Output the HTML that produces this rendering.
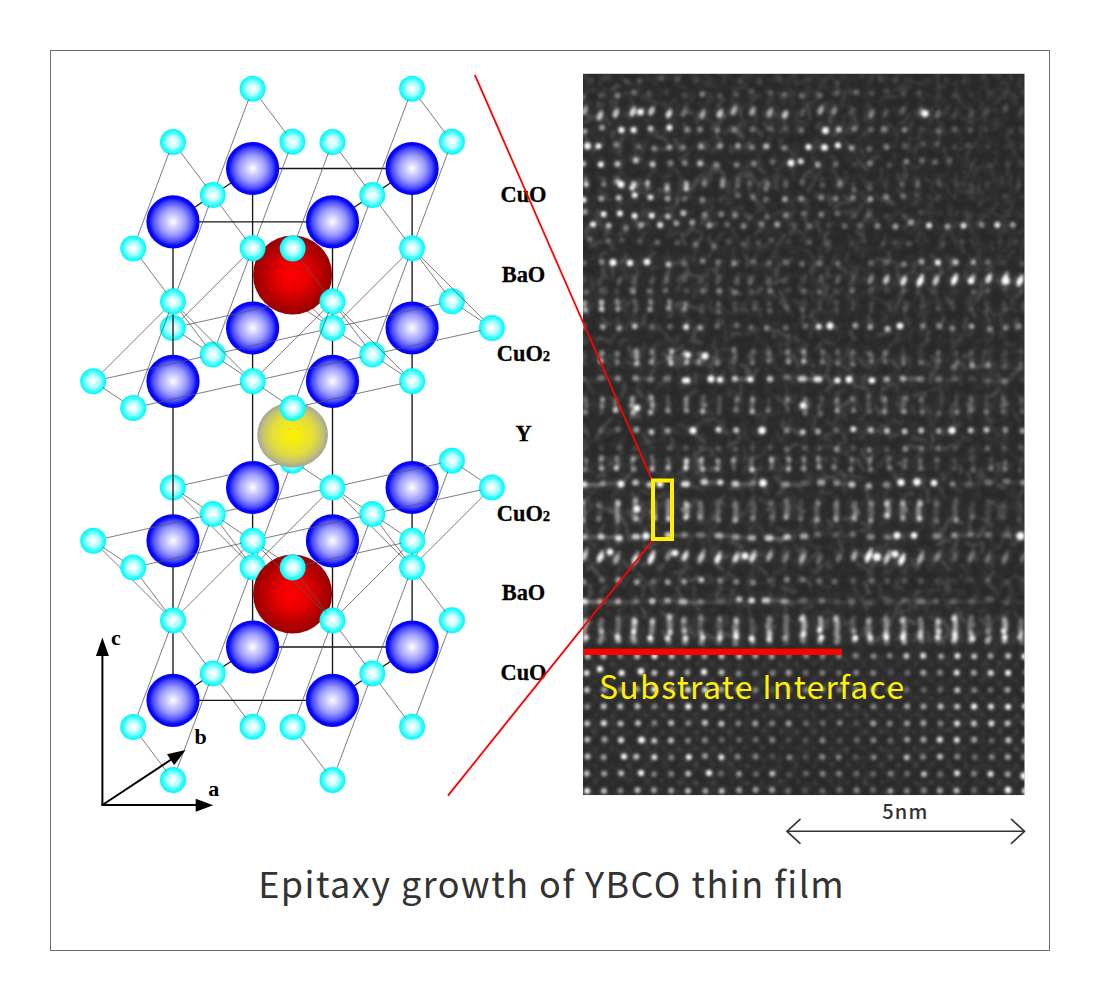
<!DOCTYPE html>
<html lang="en">
<head>
<meta charset="utf-8">
<title>Epitaxy growth of YBCO thin film</title>
<style>
html,body{margin:0;padding:0;background:#fff;}
body{width:1100px;height:1000px;overflow:hidden;position:relative;}
svg{position:absolute;left:0;top:0;display:block;}
.t{stroke:#585858;stroke-width:.78;fill:none;}
.k{stroke:#161616;stroke-width:1.35;fill:none;}
.lab text{font-family:"Liberation Serif","Noto Serif CJK JP",serif;font-weight:bold;fill:#000;}
.lab{font-size:22px;}
.sans{font-family:"Noto Sans CJK JP","Liberation Sans",sans-serif;}
</style>
</head>
<body>
<svg width="1100" height="1000" viewBox="0 0 1100 1000">
<defs>
<radialGradient id="gCu" cx="50%" cy="50%" r="50%">
<stop offset="0" stop-color="#ffffff"/><stop offset=".06" stop-color="#f2f2ff"/><stop offset=".25" stop-color="#ccccff"/><stop offset=".5" stop-color="#9a9aff"/><stop offset=".75" stop-color="#4c4cff"/><stop offset=".9" stop-color="#0606fc"/><stop offset="1" stop-color="#0000f0"/>
</radialGradient>
<radialGradient id="gO" cx="50%" cy="50%" r="50%">
<stop offset="0" stop-color="#ffffff"/><stop offset=".14" stop-color="#f8ffff"/><stop offset=".5" stop-color="#a8ffff"/><stop offset=".8" stop-color="#2cffff"/><stop offset="1" stop-color="#00f6f6"/>
</radialGradient>
<radialGradient id="gBa" cx="50%" cy="50%" r="50%">
<stop offset="0" stop-color="#ff0000"/><stop offset=".35" stop-color="#ee0000"/><stop offset=".8" stop-color="#b00000"/><stop offset="1" stop-color="#980000"/>
</radialGradient>
<radialGradient id="gY" cx="50%" cy="50%" r="50%">
<stop offset="0" stop-color="#ffee00"/><stop offset=".25" stop-color="#f6ea14"/><stop offset=".6" stop-color="#e2de3c"/><stop offset=".85" stop-color="#c4c270"/><stop offset="1" stop-color="#a4a498"/>
</radialGradient>
</defs>
<rect x="50.5" y="50.5" width="999" height="900" fill="#fff" stroke="#6e6e6e" stroke-width="1"/>
<!-- crystal structure -->
<g id="crystal">
<circle cx="292.4" cy="141.8" r="13.0" fill="url(#gO)"/>
<circle cx="451.9" cy="141.8" r="13.0" fill="url(#gO)"/>
<circle cx="292.4" cy="620.3" r="13.0" fill="url(#gO)"/>
<circle cx="451.9" cy="620.3" r="13.0" fill="url(#gO)"/>
<circle cx="292.4" cy="301.3" r="13.0" fill="url(#gO)"/>
<circle cx="451.9" cy="301.3" r="13.0" fill="url(#gO)"/>
<circle cx="292.4" cy="460.8" r="13.0" fill="url(#gO)"/>
<circle cx="451.9" cy="460.8" r="13.0" fill="url(#gO)"/>
<path class="k" d="M252.6 168.5L412.1 168.5"/>
<path class="k" d="M173.0 221.8L252.6 168.5"/>
<path class="k" d="M332.5 221.8L412.1 168.5"/>
<path class="k" d="M252.6 647.0L412.1 647.0"/>
<path class="k" d="M173.0 700.3L252.6 647.0"/>
<path class="k" d="M332.5 700.3L412.1 647.0"/>
<path class="k" d="M252.6 168.5L252.6 647.0"/>
<path class="k" d="M412.1 168.5L412.1 647.0"/>
<circle cx="252.6" cy="168.5" r="26.6" fill="url(#gCu)"/>
<circle cx="412.1" cy="168.5" r="26.6" fill="url(#gCu)"/>
<circle cx="252.6" cy="328.0" r="26.6" fill="url(#gCu)"/>
<circle cx="412.1" cy="328.0" r="26.6" fill="url(#gCu)"/>
<circle cx="412.1" cy="487.5" r="26.6" fill="url(#gCu)"/>
<circle cx="252.6" cy="647.0" r="26.6" fill="url(#gCu)"/>
<circle cx="412.1" cy="647.0" r="26.6" fill="url(#gCu)"/>
<path class="t" d="M259.5 97.9L285.5 132.6"/>
<path class="t" d="M288.4 152.5L256.6 237.4"/>
<path class="t" d="M419.0 97.9L445.0 132.6"/>
<path class="t" d="M447.9 152.5L416.1 237.4"/>
<path class="t" d="M259.5 576.4L285.5 611.1"/>
<path class="t" d="M288.4 631.0L256.6 715.9"/>
<path class="t" d="M419.0 576.4L445.0 611.1"/>
<path class="t" d="M447.9 631.0L416.1 715.9"/>
<path class="t" d="M244.5 256.3L181.0 319.8"/>
<path class="t" d="M260.7 256.3L324.2 319.8"/>
<path class="t" d="M259.5 257.4L285.5 292.1"/>
<path class="t" d="M404.0 256.3L340.5 319.8"/>
<path class="t" d="M420.2 256.3L483.7 319.8"/>
<path class="t" d="M419.0 257.4L445.0 292.1"/>
<path class="t" d="M302.0 307.7L322.8 321.6"/>
<path class="t" d="M184.1 325.4L281.2 303.8"/>
<path class="t" d="M461.5 307.7L482.3 321.6"/>
<path class="t" d="M343.6 325.4L440.7 303.8"/>
<path class="t" d="M244.5 559.1L181.0 495.6"/>
<path class="t" d="M260.7 559.1L324.2 495.6"/>
<path class="t" d="M256.6 556.4L288.4 471.5"/>
<path class="t" d="M404.0 559.1L340.5 495.6"/>
<path class="t" d="M420.2 559.1L483.7 495.6"/>
<path class="t" d="M416.1 556.4L447.9 471.5"/>
<path class="t" d="M302.0 467.2L322.8 481.1"/>
<path class="t" d="M184.1 484.9L281.2 463.3"/>
<path class="t" d="M461.5 467.2L482.3 481.1"/>
<path class="t" d="M343.6 484.9L440.7 463.3"/>
<circle cx="252.6" cy="88.7" r="13.0" fill="url(#gO)"/>
<circle cx="412.1" cy="88.7" r="13.0" fill="url(#gO)"/>
<circle cx="412.1" cy="248.2" r="13.0" fill="url(#gO)"/>
<circle cx="252.6" cy="567.2" r="13.0" fill="url(#gO)"/>
<circle cx="252.6" cy="726.7" r="13.0" fill="url(#gO)"/>
<circle cx="412.1" cy="567.2" r="13.0" fill="url(#gO)"/>
<circle cx="412.1" cy="726.7" r="13.0" fill="url(#gO)"/>
<circle cx="491.9" cy="328.0" r="13.0" fill="url(#gO)"/>
<circle cx="172.8" cy="328.0" r="13.0" fill="url(#gO)"/>
<circle cx="491.9" cy="487.5" r="13.0" fill="url(#gO)"/>
<circle cx="172.8" cy="487.5" r="13.0" fill="url(#gO)"/>
<circle cx="292.6" cy="274.9" r="39.5" fill="url(#gBa)"/>
<circle cx="292.6" cy="593.9" r="39.5" fill="url(#gBa)"/>
<ellipse cx="292.6" cy="434.8" rx="35.4" ry="32.6" fill="url(#gY)"/>
<circle cx="252.6" cy="248.2" r="13.0" fill="url(#gO)"/>
<path class="t" d="M245.7 239.0L219.7 204.3"/>
<path class="t" d="M216.8 184.4L248.6 99.5"/>
<path class="t" d="M405.2 239.0L379.2 204.3"/>
<path class="t" d="M376.3 184.4L408.1 99.5"/>
<path class="t" d="M245.7 717.5L219.7 682.8"/>
<path class="t" d="M216.8 662.9L248.6 578.0"/>
<path class="t" d="M405.2 717.5L379.2 682.8"/>
<path class="t" d="M376.3 662.9L408.1 578.0"/>
<path class="t" d="M248.6 259.0L216.8 343.9"/>
<path class="t" d="M408.1 259.0L376.3 343.9"/>
<path class="t" d="M182.4 334.3L203.2 348.2"/>
<path class="t" d="M224.0 352.1L321.1 330.5"/>
<path class="t" d="M383.5 352.1L480.6 330.5"/>
<path class="t" d="M341.9 334.3L362.7 348.2"/>
<path class="t" d="M245.7 558.0L219.7 523.3"/>
<path class="t" d="M405.2 558.0L379.2 523.3"/>
<path class="t" d="M182.4 493.8L203.2 507.7"/>
<path class="t" d="M224.0 511.6L321.1 490.0"/>
<path class="t" d="M383.5 511.6L480.6 490.0"/>
<path class="t" d="M341.9 493.8L362.7 507.7"/>
<circle cx="252.6" cy="487.5" r="26.6" fill="url(#gCu)"/>
<circle cx="212.8" cy="195.1" r="13.0" fill="url(#gO)"/>
<circle cx="372.3" cy="195.1" r="13.0" fill="url(#gO)"/>
<circle cx="212.8" cy="673.6" r="13.0" fill="url(#gO)"/>
<circle cx="372.3" cy="673.6" r="13.0" fill="url(#gO)"/>
<circle cx="212.8" cy="354.6" r="13.0" fill="url(#gO)"/>
<circle cx="372.3" cy="354.6" r="13.0" fill="url(#gO)"/>
<circle cx="212.8" cy="514.1" r="13.0" fill="url(#gO)"/>
<circle cx="372.3" cy="514.1" r="13.0" fill="url(#gO)"/>
<path class="k" d="M173.0 221.8L332.5 221.8"/>
<path class="k" d="M173.0 700.3L332.5 700.3"/>
<path class="k" d="M173.0 221.8L173.0 700.3"/>
<path class="k" d="M332.5 221.8L332.5 700.3"/>
<circle cx="332.4" cy="328.0" r="13.0" fill="url(#gO)"/>
<circle cx="332.4" cy="487.5" r="13.0" fill="url(#gO)"/>
<circle cx="173.0" cy="221.8" r="26.6" fill="url(#gCu)"/>
<circle cx="332.5" cy="221.8" r="26.6" fill="url(#gCu)"/>
<circle cx="173.0" cy="381.3" r="26.6" fill="url(#gCu)"/>
<circle cx="332.5" cy="381.3" r="26.6" fill="url(#gCu)"/>
<circle cx="173.0" cy="540.8" r="26.6" fill="url(#gCu)"/>
<circle cx="332.5" cy="540.8" r="26.6" fill="url(#gCu)"/>
<circle cx="173.0" cy="700.3" r="26.6" fill="url(#gCu)"/>
<circle cx="332.5" cy="700.3" r="26.6" fill="url(#gCu)"/>
<path class="t" d="M179.9 151.3L205.9 185.9"/>
<path class="t" d="M208.8 205.9L177.0 290.8"/>
<path class="t" d="M339.4 151.3L365.4 185.9"/>
<path class="t" d="M368.3 205.9L336.5 290.8"/>
<path class="t" d="M179.9 629.8L205.9 664.4"/>
<path class="t" d="M208.8 684.4L177.0 769.3"/>
<path class="t" d="M339.4 629.8L365.4 664.4"/>
<path class="t" d="M368.3 684.4L336.5 769.3"/>
<path class="t" d="M164.9 309.7L101.4 373.2"/>
<path class="t" d="M181.1 309.7L244.6 373.2"/>
<path class="t" d="M179.9 310.8L205.9 345.4"/>
<path class="t" d="M324.4 309.7L260.9 373.2"/>
<path class="t" d="M340.6 309.7L404.1 373.2"/>
<path class="t" d="M339.4 310.8L365.4 345.4"/>
<path class="t" d="M264.0 378.8L361.1 357.1"/>
<path class="t" d="M222.4 361.0L243.2 374.9"/>
<path class="t" d="M104.5 378.8L201.6 357.1"/>
<path class="t" d="M381.9 361.0L402.7 374.9"/>
<path class="t" d="M164.9 612.4L101.4 548.9"/>
<path class="t" d="M181.1 612.4L244.6 548.9"/>
<path class="t" d="M177.0 609.8L208.8 524.9"/>
<path class="t" d="M324.4 612.4L260.9 548.9"/>
<path class="t" d="M340.6 612.4L404.1 548.9"/>
<path class="t" d="M336.5 609.8L368.3 524.9"/>
<path class="t" d="M264.0 538.3L361.1 516.6"/>
<path class="t" d="M222.4 520.5L243.2 534.4"/>
<path class="t" d="M104.5 538.3L201.6 516.6"/>
<path class="t" d="M381.9 520.5L402.7 534.4"/>
<circle cx="173.0" cy="142.1" r="13.0" fill="url(#gO)"/>
<circle cx="173.0" cy="301.6" r="13.0" fill="url(#gO)"/>
<circle cx="332.5" cy="142.1" r="13.0" fill="url(#gO)"/>
<circle cx="332.5" cy="301.6" r="13.0" fill="url(#gO)"/>
<circle cx="173.0" cy="620.5" r="13.0" fill="url(#gO)"/>
<circle cx="173.0" cy="780.0" r="13.0" fill="url(#gO)"/>
<circle cx="332.5" cy="620.5" r="13.0" fill="url(#gO)"/>
<circle cx="332.5" cy="780.0" r="13.0" fill="url(#gO)"/>
<circle cx="252.8" cy="381.3" r="13.0" fill="url(#gO)"/>
<circle cx="93.2" cy="381.3" r="13.0" fill="url(#gO)"/>
<circle cx="412.2" cy="381.3" r="13.0" fill="url(#gO)"/>
<circle cx="252.8" cy="540.8" r="13.0" fill="url(#gO)"/>
<circle cx="93.2" cy="540.8" r="13.0" fill="url(#gO)"/>
<circle cx="412.2" cy="540.8" r="13.0" fill="url(#gO)"/>
<path class="t" d="M166.1 292.3L140.1 257.7"/>
<path class="t" d="M137.2 237.7L169.0 152.8"/>
<path class="t" d="M325.6 292.3L299.6 257.7"/>
<path class="t" d="M296.7 237.7L328.5 152.8"/>
<path class="t" d="M166.1 770.8L140.1 736.2"/>
<path class="t" d="M137.2 716.2L169.0 631.3"/>
<path class="t" d="M325.6 770.8L299.6 736.2"/>
<path class="t" d="M296.7 716.2L328.5 631.3"/>
<path class="t" d="M169.0 312.3L137.2 397.2"/>
<path class="t" d="M328.5 312.3L296.7 397.2"/>
<path class="t" d="M262.3 387.7L283.1 401.6"/>
<path class="t" d="M144.4 405.5L241.5 383.8"/>
<path class="t" d="M102.8 387.7L123.6 401.6"/>
<path class="t" d="M303.9 405.5L401.0 383.8"/>
<path class="t" d="M166.1 611.3L140.1 576.7"/>
<path class="t" d="M325.6 611.3L299.6 576.7"/>
<path class="t" d="M262.3 547.2L283.1 561.1"/>
<path class="t" d="M144.4 565.0L241.5 543.3"/>
<path class="t" d="M102.8 547.2L123.6 561.1"/>
<path class="t" d="M303.9 565.0L401.0 543.3"/>
<circle cx="133.2" cy="248.5" r="13.0" fill="url(#gO)"/>
<circle cx="292.7" cy="248.5" r="13.0" fill="url(#gO)"/>
<circle cx="133.2" cy="727.0" r="13.0" fill="url(#gO)"/>
<circle cx="292.7" cy="727.0" r="13.0" fill="url(#gO)"/>
<circle cx="133.2" cy="408.0" r="13.0" fill="url(#gO)"/>
<circle cx="292.7" cy="408.0" r="13.0" fill="url(#gO)"/>
<circle cx="133.2" cy="567.5" r="13.0" fill="url(#gO)"/>
<circle cx="292.7" cy="567.5" r="13.0" fill="url(#gO)"/>
</g>
<!-- axes -->
<g stroke="#000" stroke-width="2" fill="none">
<path d="M102.4 805V652"/><path d="M101.4 805H198"/><path d="M102.4 805L172 759"/>
</g>
<g fill="#000">
<path d="M102.4 637.6l-6.5 18.5h13z"/><path d="M213.2 805.3l-17.5-6.5v13z"/><path d="M185.6 750l-18.6 4.2l7.2 10.9z"/>
</g>
<g class="lab">
<text x="111" y="645">c</text><text x="194.5" y="744">b</text><text x="208.3" y="796">a</text>
<g transform="translate(523.5 0) scale(.95 1)" font-size="23.6" stroke="#000" stroke-width=".3">
<text x="0" y="202" text-anchor="middle">CuO</text>
<text x="0" y="281.8" text-anchor="middle">BaO</text>
<text x="0" y="361.2" text-anchor="middle">CuO<tspan font-size="15.5">2</tspan></text>
<text x="0" y="441.4" text-anchor="middle">Y</text>
<text x="0" y="520.8" text-anchor="middle">CuO<tspan font-size="15.5">2</tspan></text>
<text x="0" y="600.2" text-anchor="middle">BaO</text>
<text x="0" y="680" text-anchor="middle">CuO</text>
</g>
</g>
<!-- TEM -->
<clipPath id="temclip"><rect x="583.0" y="73.6" width="441.7" height="721.6"/></clipPath>
<filter id="temblur" x="-2%" y="-2%" width="104%" height="104%"><feGaussianBlur stdDeviation="1.8"/></filter>
<filter id="temgrain" x="0" y="0" width="100%" height="100%"><feTurbulence type="fractalNoise" baseFrequency=".11" numOctaves="2" seed="3" result="n"/><feColorMatrix in="n" type="matrix" values="0 0 0 0 1  0 0 0 0 1  0 0 0 0 1  1.1 0 0 0 -.42"/></filter>
<g clip-path="url(#temclip)">
<rect x="583.0" y="73.6" width="441.7" height="721.6" fill="#292929"/>
<rect x="583.0" y="73.6" width="441.7" height="721.6" filter="url(#temgrain)" opacity=".1"/>
<filter id="temhaze" x="-2%" y="-2%" width="104%" height="104%"><feGaussianBlur stdDeviation="5"/></filter>
<use href="#temcore" filter="url(#temhaze)" opacity=".2"/>
<g filter="url(#temblur)"><g id="temcore" fill="none" stroke="#fff" stroke-linecap="round">
<path stroke-width="5.8" stroke-opacity="0.07" d="M1019.6 602.1h2.4M953.5 580.6h.1M1023.1 581.5h.1M651.8 448.3h.1M955.6 291.7h.1M1020.5 291.0h.1M600.0 281.8l0.9 -1.8M634.0 281.4l1.2 -2.5M784.7 280.8l0.8 -1.7M803.3 280.4l1.1 -2.1M820.1 279.9l1.0 -2.0M852.6 280.8l1.1 -2.3M926.2 240.6h.1M978.9 242.8h.1M1000.7 242.5h.1M939.7 213.1h.1M956.3 213.9h.1M970.6 215.4h.1M986.3 215.7h.1M1003.8 216.7h.1M1020.9 215.8h.1M954.3 196.8h.1M971.7 197.8h.1M988.1 198.1h.1M1021.9 197.0h.1M971.7 165.9h.1M990.1 166.0h.1M1007.1 164.2h.1M1023.1 163.8h.1M1006.7 146.1h.1M1022.1 146.2h.1M1009.7 130.3h.1M954.2 116.0l0.9 -1.7M970.5 115.1l0.7 -1.3M986.1 113.1l0.8 -1.6M1020.1 113.9l0.8 -1.6M935.6 98.1h.1M954.4 95.5h.1M971.6 94.7h.1M990.9 92.2h.1M1005.8 92.1h.1M1023.0 93.0h.1M608.7 79.2h.1M709.5 81.3h.1M723.4 81.2h.1M796.4 82.5h.1M810.0 78.3h.1M824.8 79.6h.1M843.2 77.2h.1M861.4 75.9h.1M880.7 80.3h.1M894.4 80.5h.1M911.2 80.9h.1M926.0 80.8h.1M946.5 80.5h.1M963.5 82.3h.1M982.8 76.9h.1M997.9 76.1h.1M1010.5 77.7h.1"/>
<path stroke-width="5.8" stroke-opacity="0.12" d="M836.6 602.0h0.3M867.4 602.4h3.0M886.0 601.7h1.5M903.9 600.2h3.1M1004.4 602.2h2.3M937.0 580.9h.1M971.1 580.2h.1M1006.4 582.3h.1M954.5 557.9l1.4 -2.8M583.8 448.7h.1M601.2 447.6h.1M634.6 448.6h.1M701.2 447.4h.1M752.4 447.9h.1M955.7 448.0h.1M972.4 449.3h.1M584.0 431.1h.1M970.2 378.7h2.9M1022.4 379.5h2.0M936.7 367.3h.1M616.6 291.1h.1M787.9 290.4h.1M835.1 291.0h.1M886.9 290.1h.1M918.1 292.0h.1M935.2 291.6h.1M1005.5 288.4h.1M583.1 281.7l0.8 -1.6M619.0 281.8l0.8 -1.6M651.8 281.2l0.9 -1.7M665.4 281.1l1.1 -2.2M684.2 279.8l0.8 -1.6M700.7 280.9l0.9 -1.7M717.7 281.3l1.1 -2.2M736.4 281.6l0.9 -1.8M750.3 281.6l1.1 -2.2M768.6 281.8l0.8 -1.6M837.3 280.8l0.8 -1.6M1003.4 262.5h.1M788.6 241.7h.1M851.6 242.7h.1M864.0 241.2h.1M883.2 243.7h.1M895.4 243.1h.1M942.3 243.9h.1M962.2 241.3h.1M1015.8 241.3h.1M828.3 225.4h.1M750.7 216.6h.1M886.3 216.0h.1M904.7 217.1h.1M920.5 212.5h.1M721.4 198.8h.1M917.1 195.0h.1M938.6 197.1h.1M1004.3 196.6h.1M854.7 164.2h.1M954.2 147.0h.1M968.5 145.7h.1M987.6 146.3h.1M921.1 129.0h.1M985.6 129.2h.1M1022.0 129.8h.1M802.1 113.4l0.7 -1.4M851.1 112.4l0.7 -1.4M885.1 114.1l0.7 -1.5M902.3 111.5l0.7 -1.5M1005.0 109.4l0.7 -1.3M666.3 92.3h.1M685.0 95.3h.1M886.8 91.0h.1M903.6 93.9h.1M919.4 92.7h.1M591.1 80.3h.1M626.5 81.1h.1M677.7 78.9h.1M696.5 80.3h.1M740.7 81.4h.1M759.4 81.8h.1M779.5 79.4h.1"/>
<path stroke-width="5.8" stroke-opacity="0.2" d="M890.7 672.7h.1M772.6 689.7h.1M805.8 706.6h.1M856.1 706.4h.1M856.2 723.1h.1M788.5 739.8h.1M805.4 740.3h.1M839.8 740.5h.1M772.4 756.5h.1M805.7 756.7h.1M855.7 757.1h.1M890.6 757.0h.1M788.9 774.4h.1M805.2 790.8h.1M786.2 641.8h.1M937.9 641.3h.1M719.2 601.2h3.0M802.3 600.4h2.0M851.5 601.4h1.6M935.2 601.1h1.0M951.5 601.3h2.4M970.8 601.1h1.1M988.3 599.2h3.0M769.3 580.6h.1M853.0 580.4h.1M887.1 580.9h.1M904.3 580.4h.1M920.9 581.0h.1M987.9 580.3h.1M785.1 559.2l1.3 -2.6M818.5 560.6l1.1 -2.1M838.1 559.0l1.0 -2.0M970.4 558.4l1.2 -2.3M987.0 559.9l1.1 -2.2M1004.4 559.7l1.3 -2.6M1022.2 559.3l1.2 -2.3M835.4 534.7h0.9M1004.7 535.1h3.2M803.3 482.9h3.2M967.1 484.3h3.0M619.1 447.5h.1M669.1 447.9h.1M685.8 447.9h.1M718.6 448.3h.1M735.4 449.4h.1M769.8 447.2h.1M805.0 447.8h.1M819.6 448.2h.1M853.3 447.8h.1M886.7 449.6h.1M1004.4 448.5h.1M1020.7 447.2h.1M601.0 431.1h.1M581.6 379.2h1.8M954.2 378.7h1.5M987.0 380.5h1.3M1004.5 366.9h.1M1020.6 368.0h.1M601.5 290.4h.1M686.4 290.8h.1M751.4 291.9h.1M804.1 290.8h.1M871.2 290.0h.1M903.8 290.1h.1M973.3 291.8h.1M987.3 290.8h.1M887.1 262.1h.1M1022.1 263.7h.1M621.9 239.8h.1M639.9 241.7h.1M677.5 242.6h.1M728.4 241.8h.1M743.0 244.0h.1M758.4 242.9h.1M771.4 240.4h.1M809.5 242.2h.1M826.3 243.5h.1M908.7 243.8h.1M793.7 225.0h.1M854.2 215.4h.1M868.6 215.2h.1M889.2 165.2h.1M949.0 160.7h.1M904.6 146.1h.1M923.3 143.9h.1M936.9 144.2h.1M770.6 128.4h.1M786.2 129.0h.1M954.5 129.3h.1M970.3 130.2h.1M683.6 113.5l0.7 -1.3M920.6 111.8l0.7 -1.4M937.5 115.0l0.8 -1.6M601.0 95.3h.1M649.0 93.6h.1M719.8 95.6h.1M736.5 94.7h.1M751.6 91.5h.1M770.1 92.7h.1M836.3 93.5h.1M871.7 93.3h.1M639.6 80.9h.1M661.3 78.1h.1"/>
<path stroke-width="5.8" stroke-opacity="0.3" d="M788.8 656.1h.1M755.1 673.0h.1M805.7 672.8h.1M839.0 672.9h.1M907.2 673.0h.1M1025.2 672.2h.1M788.8 689.2h.1M906.5 689.7h.1M923.7 689.8h.1M940.3 689.5h.1M990.7 690.0h.1M738.7 706.5h.1M755.9 706.5h.1M789.0 706.5h.1M822.6 706.9h.1M806.0 723.3h.1M822.8 722.8h.1M1024.4 723.0h.1M721.7 739.8h.1M739.1 739.8h.1M755.8 739.6h.1M856.7 740.1h.1M890.2 740.5h.1M991.6 740.6h.1M974.6 757.2h.1M721.1 773.5h.1M756.0 774.1h.1M805.9 773.5h.1M856.3 773.6h.1M873.2 773.8h.1M907.1 773.7h.1M940.3 773.9h.1M788.2 790.9h.1M822.4 791.0h.1M839.3 789.9h.1M873.0 790.0h.1M973.9 789.9h.1M991.0 790.2h.1M583.9 641.1h.1M651.1 640.8h.1M668.8 641.9h.1M719.1 641.8h.1M769.6 641.4h.1M854.3 640.6h.1M870.4 641.7h.1M886.7 642.1h.1M921.4 640.8h.1M1021.8 641.8h.1M636.2 601.3h0.3M700.5 601.7h0.8M821.4 600.7h1.2M919.8 601.3h3.0M601.9 579.9h.1M653.1 581.6h.1M802.6 579.6h.1M819.2 581.0h.1M834.3 581.6h.1M872.0 580.7h.1M667.8 557.2l1.3 -2.5M937.0 557.8l1.1 -2.1M683.9 534.6h1.1M698.9 534.8h3.2M817.0 534.4h1.6M852.7 534.2h0.6M887.3 537.1h0.9M969.9 534.2h0.9M987.6 534.8h1.3M753.1 482.7h0.5M987.1 482.6h3.0M1005.3 481.3h2.3M786.7 449.4h.1M921.5 448.5h.1M938.3 448.5h.1M987.4 448.3h.1M617.9 429.3h.1M836.5 430.3h.1M600.1 377.9h2.1M650.2 379.6h1.0M665.6 378.7h2.8M786.1 377.3h1.9M919.6 379.0h2.5M937.6 379.1h1.5M1004.6 380.9h1.1M954.4 367.0h.1M651.7 327.2h.1M669.9 326.6h.1M717.2 326.1h.1M736.6 325.2h.1M751.1 327.5h.1M785.8 327.6h.1M805.4 326.2h.1M585.8 292.1h.1M649.5 291.1h.1M665.5 290.3h.1M702.7 290.9h.1M734.4 292.4h.1M770.1 290.9h.1M819.4 292.1h.1M852.1 290.5h.1M870.2 280.5l1.0 -2.0M583.6 263.0h.1M684.2 263.3h.1M717.9 261.9h.1M753.0 261.6h.1M769.0 262.8h.1M785.5 262.1h.1M802.0 263.9h.1M819.1 263.4h.1M837.6 263.3h.1M870.9 263.0h.1M987.6 262.2h.1M590.0 239.5h.1M608.1 241.0h.1M657.2 242.5h.1M695.4 244.1h.1M714.1 246.2h.1M727.0 224.5h.1M809.8 225.9h.1M844.7 226.1h.1M860.2 225.7h.1M767.0 216.6h.1M804.0 213.6h.1M837.4 213.2h.1M684.3 198.6h.1M737.8 195.3h.1M753.0 197.2h.1M765.9 199.4h.1M903.3 196.3h.1M772.5 161.7h.1M835.6 164.1h.1M922.0 160.5h.1M935.2 161.8h.1M638.8 146.8h.1M869.3 148.9h.1M752.3 129.6h.1M801.4 130.0h.1M870.8 129.7h.1M938.2 131.1h.1M833.8 111.7l0.7 -1.5M870.9 115.2l0.8 -1.5M582.6 97.2h.1M634.1 92.6h.1M784.3 94.6h.1M801.7 95.7h.1M819.7 95.4h.1M856.5 92.3h.1"/>
<path stroke-width="5.8" stroke-opacity="0.42" d="M620.2 655.9h.1M806.2 655.7h.1M822.5 656.1h.1M838.9 656.2h.1M855.5 655.6h.1M873.5 656.2h.1M889.6 655.6h.1M738.5 673.4h.1M772.6 673.1h.1M822.3 672.8h.1M856.2 672.7h.1M873.1 672.8h.1M939.9 672.5h.1M620.8 689.7h.1M755.3 690.0h.1M806.0 689.9h.1M822.7 689.1h.1M839.4 689.7h.1M856.2 689.5h.1M974.2 690.1h.1M1024.7 689.4h.1M587.2 706.8h.1M654.4 706.6h.1M772.3 706.4h.1M839.4 706.3h.1M873.4 706.6h.1M889.7 706.4h.1M654.3 722.9h.1M688.2 723.2h.1M738.3 723.4h.1M772.0 723.3h.1M839.6 722.8h.1M889.7 723.4h.1M940.5 723.5h.1M687.8 740.6h.1M704.7 740.2h.1M772.3 740.0h.1M822.4 740.4h.1M873.4 740.2h.1M671.5 757.3h.1M737.6 756.7h.1M755.6 756.5h.1M789.5 757.3h.1M822.1 756.9h.1M838.6 757.1h.1M873.7 757.2h.1M923.1 757.0h.1M957.3 756.7h.1M991.7 756.9h.1M1024.0 757.0h.1M654.0 774.1h.1M671.2 773.8h.1M822.6 773.8h.1M839.0 773.7h.1M890.5 773.6h.1M973.9 773.7h.1M620.5 790.6h.1M856.4 790.2h.1M906.9 790.9h.1M923.8 790.5h.1M600.3 641.1h.1M634.3 641.3h.1M684.8 642.1h.1M701.3 642.3h.1M735.3 642.9h.1M752.7 641.5h.1M802.9 640.6h.1M836.9 641.8h.1M971.0 640.5h.1M601.5 637.3h.1M802.4 636.9h.1M837.9 637.6h.1M989.3 637.8h.1M599.9 601.4h0.4M783.5 601.3h2.1M583.4 581.9h.1M720.1 580.4h.1M736.3 581.8h.1M753.0 582.7h.1M786.8 579.6h.1M615.9 560.2l1.3 -2.6M768.8 557.5l1.3 -2.5M801.7 559.8l1.4 -2.8M853.7 557.1l1.0 -2.0M919.6 560.2l1.5 -3.0M734.6 537.0h2.4M869.8 536.9h2.2M935.5 536.0h2.8M953.9 535.1h0.6M602.8 483.4h0.2M784.1 484.3h3.1M836.3 482.9h1.0M885.6 484.7h1.6M952.5 484.1h0.2M1023.1 482.5h0.6M836.8 449.2h.1M869.1 450.1h.1M905.2 448.8h.1M786.7 430.5h.1M1005.4 430.0h.1M617.8 378.5h0.2M635.0 378.1h0.9M987.9 365.6h.1M766.8 328.1h.1M922.7 325.9h.1M939.1 326.0h.1M952.3 328.5h.1M989.8 329.0h.1M1005.7 327.6h.1M1018.7 326.2h.1M633.1 291.0h.1M719.3 291.0h.1M971.5 279.7l0.8 -1.6M601.6 261.9h.1M702.6 260.9h.1M734.0 263.1h.1M903.9 264.1h.1M626.0 227.8h.1M743.6 226.2h.1M761.3 223.8h.1M877.5 225.9h.1M981.4 224.7h.1M704.6 214.7h.1M721.2 214.2h.1M734.9 215.2h.1M785.9 215.1h.1M821.3 214.4h.1M702.3 199.8h.1M801.1 198.6h.1M821.3 197.5h.1M835.5 198.6h.1M852.6 198.0h.1M886.1 197.0h.1M670.5 163.2h.1M684.6 162.8h.1M716.8 165.1h.1M736.7 164.8h.1M753.9 163.5h.1M869.9 163.3h.1M906.3 161.6h.1M616.3 144.6h.1M654.1 148.4h.1M682.9 147.4h.1M751.8 147.2h.1M784.4 147.9h.1M886.6 147.0h.1M686.8 129.9h.1M700.0 129.5h.1M717.3 130.1h.1M734.3 129.9h.1M854.2 128.7h.1M883.7 129.1h.1M904.5 129.8h.1M584.1 111.5l0.9 -1.7M702.0 115.4l0.9 -1.8M733.4 111.6l0.9 -1.9M752.0 112.3l0.8 -1.6M769.5 113.6l0.9 -1.8M820.2 111.3l0.8 -1.7M617.4 95.4h.1M702.3 94.1h.1"/>
<path stroke-width="5.8" stroke-opacity="0.56" d="M687.7 656.0h.1M704.5 656.1h.1M755.3 655.8h.1M771.6 656.4h.1M941.0 656.3h.1M990.5 655.9h.1M687.3 672.5h.1M788.6 672.7h.1M923.3 672.7h.1M973.7 672.7h.1M604.1 689.5h.1M637.0 689.1h.1M671.5 689.7h.1M721.3 689.5h.1M873.3 689.1h.1M890.2 689.4h.1M1007.5 689.8h.1M907.1 706.2h.1M923.5 706.4h.1M755.2 723.4h.1M788.6 723.4h.1M873.3 723.3h.1M907.0 723.3h.1M923.3 723.0h.1M604.4 739.5h.1M907.1 739.6h.1M923.5 739.7h.1M974.1 739.7h.1M603.6 757.2h.1M705.0 756.1h.1M1007.8 757.0h.1M604.1 773.6h.1M739.0 773.8h.1M1007.7 774.2h.1M653.9 790.2h.1M671.1 790.6h.1M705.3 790.9h.1M739.0 790.1h.1M755.6 789.8h.1M772.1 790.0h.1M890.4 790.8h.1M939.8 790.6h.1M618.4 640.4h.1M820.1 640.8h.1M904.1 641.8h.1M953.9 640.9h.1M987.5 641.0h.1M1004.4 641.1h.1M633.5 637.3h.1M785.2 637.8h.1M617.8 601.5h0.4M666.7 600.6h1.2M681.4 601.7h3.2M618.3 579.8h.1M636.8 582.0h.1M667.7 582.1h.1M684.1 581.6h.1M583.6 557.0l1.4 -2.8M700.5 558.7l1.5 -2.9M886.4 559.7l1.5 -2.9M583.2 536.6h1.1M717.5 535.6h2.7M750.5 537.9h2.8M802.6 536.2h2.8M819.9 482.5h2.6M868.6 485.9h0.7M636.3 429.7h.1M667.6 430.7h.1M817.9 431.5h.1M938.8 431.0h.1M1022.7 430.7h.1M886.2 379.4h0.9M902.8 378.5h0.4M972.1 365.6h.1M582.3 326.7h.1M602.8 326.8h.1M619.1 328.3h.1M700.2 327.7h.1M855.3 325.5h.1M870.2 327.1h.1M971.5 326.3h.1M885.9 280.7l0.8 -1.7M935.4 281.7l1.0 -2.0M921.6 261.7h.1M973.2 262.1h.1M641.1 224.9h.1M676.4 223.3h.1M692.2 222.5h.1M709.1 225.4h.1M777.1 224.4h.1M895.3 226.5h.1M911.0 222.4h.1M947.4 226.3h.1M1012.7 224.8h.1M584.4 211.9h.1M601.3 198.6h.1M667.6 198.6h.1M784.9 199.1h.1M870.3 199.1h.1M817.7 164.7h.1M669.4 147.3h.1M701.0 146.5h.1M719.9 145.9h.1M737.9 145.9h.1M851.6 147.8h.1M584.5 131.3h.1M602.0 127.7h.1M599.6 116.8l0.9 -1.8M615.4 114.4l0.8 -1.7M651.0 112.1l0.7 -1.5M719.5 114.6l0.8 -1.6M784.8 115.4l0.7 -1.4"/>
<path stroke-width="5.8" stroke-opacity="0.72" d="M587.7 656.3h.1M603.5 656.0h.1M637.2 656.3h.1M671.7 656.3h.1M721.5 656.2h.1M739.1 656.1h.1M906.3 656.0h.1M974.1 656.3h.1M1008.1 655.9h.1M654.3 672.8h.1M721.5 672.4h.1M586.9 690.0h.1M957.2 690.1h.1M603.7 706.3h.1M620.3 706.3h.1M637.4 706.2h.1M670.9 706.6h.1M721.5 706.9h.1M940.6 706.4h.1M957.1 706.6h.1M587.1 723.4h.1M620.5 723.6h.1M638.0 723.1h.1M671.1 722.9h.1M704.9 722.7h.1M721.3 723.7h.1M973.9 723.5h.1M1007.5 723.3h.1M587.2 739.6h.1M654.2 740.7h.1M670.8 740.4h.1M1008.3 740.2h.1M1024.9 740.6h.1M587.6 756.4h.1M636.3 756.6h.1M906.7 757.3h.1M940.0 756.6h.1M586.7 773.5h.1M621.1 773.2h.1M688.1 773.6h.1M772.3 773.6h.1M923.9 774.1h.1M603.9 790.9h.1M637.4 790.1h.1M687.9 790.8h.1M721.7 790.9h.1M956.5 790.6h.1M920.4 636.7h.1M1020.2 637.0h.1M652.0 601.2h0.6M738.9 599.3h0.6M764.5 600.3h2.7M701.3 579.9h.1M634.5 560.7l1.4 -2.8M684.6 557.3l1.0 -2.0M735.4 559.0l1.1 -2.1M752.0 558.6l1.3 -2.5M600.5 536.7h1.2M634.5 536.6h2.5M667.5 535.0h2.4M767.4 538.0h3.1M786.4 536.8h1.5M635.0 482.6h1.0M649.5 484.6h2.3M703.3 482.0h1.8M734.4 483.7h1.8M851.3 484.6h1.2M651.4 432.0h.1M736.2 430.1h.1M802.7 432.1h.1M870.7 429.9h.1M886.9 430.9h.1M904.6 431.4h.1M921.1 430.5h.1M970.7 430.3h.1M986.5 429.8h.1M734.6 378.7h0.5M769.7 379.0h0.7M800.6 378.8h3.0M634.8 326.2h.1M887.5 328.9h.1M903.1 282.1l0.9 -1.7M988.3 279.6l0.9 -1.8M668.4 264.3h.1M955.7 262.2h.1M608.6 225.6h.1M667.8 216.3h.1M683.3 213.1h.1M618.6 197.8h.1M582.9 163.7h.1M617.4 164.0h.1M635.9 160.4h.1M652.6 164.2h.1M700.1 163.4h.1M766.1 146.3h.1M650.6 128.7h.1M838.8 129.5h.1M632.3 113.0l1.0 -1.9M668.5 114.8l0.8 -1.6"/>
<path stroke-width="5.8" stroke-opacity="0.88" d="M923.1 655.7h.1M957.4 655.9h.1M586.5 673.0h.1M671.1 673.0h.1M956.7 672.7h.1M990.7 672.9h.1M687.9 689.7h.1M705.0 689.8h.1M738.5 689.3h.1M704.6 706.5h.1M990.9 706.6h.1M1024.8 706.3h.1M603.8 723.2h.1M957.0 723.5h.1M991.3 723.5h.1M621.0 740.2h.1M939.8 739.7h.1M956.8 739.9h.1M654.3 757.2h.1M721.3 757.2h.1M957.0 773.2h.1M990.5 774.0h.1M585.8 637.4h.1M617.6 636.9h.1M667.7 638.2h.1M685.4 638.2h.1M702.6 637.6h.1M719.8 637.8h.1M769.2 638.8h.1M870.3 638.0h.1M937.6 637.2h.1M955.0 637.8h.1M972.4 638.4h.1M582.0 601.4h2.8M751.4 600.4h0.6M599.8 558.4l1.2 -2.3M650.7 559.6l1.3 -2.6M717.3 559.6l1.2 -2.4M618.0 538.2h1.8M582.9 484.3h1.6M683.9 484.1h3.1M720.2 482.3h0.3M718.4 429.6h.1M853.2 429.2h.1M816.3 379.3h3.2M686.1 326.9h.1M818.8 326.7h.1M1004.5 280.1l1.1 -2.2M660.1 225.0h.1M929.0 225.5h.1M963.5 225.7h.1M997.3 225.0h.1M650.5 197.3h.1M800.8 161.3h.1"/>
<path stroke-width="5.8" stroke-opacity="1.0" d="M654.5 656.1h.1M1024.5 656.4h.1M621.6 672.9h.1M1008.0 672.8h.1M654.4 689.4h.1M688.2 706.5h.1M974.0 706.4h.1M1008.1 706.8h.1M688.8 757.1h.1M587.1 790.9h.1M1025.0 790.8h.1M650.2 637.9h.1M736.1 636.8h.1M751.6 638.4h.1M821.2 637.3h.1M855.2 638.0h.1M886.3 637.5h.1M903.0 637.6h.1M1004.7 637.1h.1M867.9 557.7l1.4 -2.8M901.3 561.1l1.1 -2.3M684.8 380.4h2.7M719.7 379.7h0.6M750.2 379.3h0.3M837.0 380.3h0.7M871.5 380.4h0.9M919.6 282.4l1.2 -2.3M953.8 281.1l1.1 -2.1M1019.4 282.3l1.1 -2.2M937.8 262.4h.1M593.0 224.3h.1M603.6 214.1h.1M619.9 213.4h.1M634.5 215.8h.1M651.7 215.6h.1M583.5 199.9h.1M634.7 195.1h.1M600.8 164.4h.1M598.5 146.1h.1M837.9 145.4h.1M633.6 130.0h.1M669.5 127.7h.1"/>
<path stroke-width="5.0" stroke-opacity="0.07" d="M594.1 664.9h.1M612.3 664.2h.1M629.0 664.2h.1M646.3 664.5h.1M679.5 664.8h.1M697.1 663.5h.1M712.7 664.2h.1M729.2 664.7h.1M747.0 665.5h.1M763.8 664.2h.1M796.2 663.2h.1M814.3 663.3h.1M831.0 663.7h.1M849.2 663.9h.1M864.1 664.5h.1M881.6 663.9h.1M897.9 665.3h.1M915.2 664.7h.1M931.4 664.3h.1M947.9 663.7h.1M965.1 664.0h.1M983.1 664.1h.1M1016.6 664.9h.1M594.9 681.8h.1M612.5 680.3h.1M630.2 681.9h.1M647.1 682.3h.1M662.2 680.9h.1M679.0 680.6h.1M694.7 680.3h.1M712.2 680.5h.1M730.1 679.2h.1M747.7 682.8h.1M762.8 681.9h.1M781.0 682.1h.1M796.8 682.2h.1M813.9 681.4h.1M847.4 680.6h.1M865.0 682.6h.1M882.8 681.3h.1M897.6 680.9h.1M915.3 681.9h.1M931.2 680.2h.1M949.3 681.0h.1M964.7 681.3h.1M982.0 680.9h.1M1000.1 681.9h.1M1016.8 680.6h.1M595.5 697.3h.1M612.3 698.8h.1M628.8 697.7h.1M645.1 698.4h.1M662.8 699.8h.1M680.4 697.8h.1M695.7 697.7h.1M712.5 697.0h.1M728.5 697.0h.1M746.3 697.7h.1M763.5 698.1h.1M780.1 698.2h.1M797.7 697.2h.1M814.1 698.5h.1M847.8 697.7h.1M864.5 698.1h.1M882.3 698.6h.1M899.0 697.8h.1M915.8 698.1h.1M930.4 698.5h.1M947.2 697.7h.1M966.1 697.5h.1M982.6 698.3h.1M999.8 698.0h.1M1015.7 699.3h.1M595.8 714.7h.1M612.8 715.8h.1M629.9 714.9h.1M646.5 715.7h.1M680.5 715.6h.1M695.1 715.0h.1M713.0 714.2h.1M730.3 714.8h.1M746.9 714.1h.1M764.4 715.3h.1M780.3 714.1h.1M798.2 715.1h.1M813.2 714.7h.1M831.2 715.8h.1M847.9 714.8h.1M866.1 715.2h.1M882.1 714.4h.1M899.4 715.8h.1M916.0 714.6h.1M932.0 714.9h.1M948.9 714.2h.1M964.5 714.0h.1M982.7 715.3h.1M999.7 714.5h.1M594.3 731.7h.1M630.1 732.5h.1M646.3 731.6h.1M662.6 732.4h.1M680.3 730.8h.1M746.5 730.7h.1M763.6 730.9h.1M781.1 731.9h.1M797.3 732.4h.1M831.0 731.8h.1M847.1 731.8h.1M881.4 731.3h.1M899.8 731.3h.1M914.1 731.4h.1M931.6 731.1h.1M949.4 730.4h.1M965.6 732.2h.1M982.2 732.7h.1M1016.6 731.3h.1M595.7 748.5h.1M611.5 748.7h.1M628.0 748.0h.1M646.0 748.2h.1M663.7 747.9h.1M696.4 748.7h.1M712.0 748.6h.1M745.4 747.3h.1M763.5 748.0h.1M781.7 748.1h.1M797.8 748.5h.1M813.6 748.3h.1M830.5 748.8h.1M864.4 748.3h.1M881.5 749.1h.1M898.4 749.5h.1M914.8 748.8h.1M932.1 748.1h.1M948.2 748.8h.1M964.6 748.3h.1M982.8 748.3h.1M999.8 749.4h.1M595.3 765.7h.1M611.4 766.0h.1M628.9 765.4h.1M646.6 764.9h.1M663.5 764.4h.1M679.4 765.3h.1M713.1 764.4h.1M747.2 765.4h.1M764.2 765.9h.1M779.9 766.2h.1M796.4 765.0h.1M814.6 766.3h.1M848.2 765.1h.1M863.6 765.8h.1M932.2 764.3h.1M948.6 765.9h.1M965.5 765.5h.1M982.6 765.5h.1M1000.0 764.6h.1M1017.0 765.5h.1M595.9 781.4h.1M612.6 782.5h.1M629.1 781.4h.1M646.3 781.6h.1M662.1 781.4h.1M713.2 782.6h.1M731.1 780.9h.1M761.8 781.8h.1M798.1 781.7h.1M814.7 781.7h.1M830.5 781.6h.1M847.3 782.8h.1M882.5 782.1h.1M899.1 782.9h.1M915.8 782.2h.1M947.5 783.0h.1M965.3 782.3h.1M982.2 782.3h.1M1015.2 781.0h.1M596.2 798.6h.1M629.3 799.0h.1M646.4 798.6h.1M663.9 798.6h.1M680.8 799.2h.1M712.6 799.2h.1M730.1 797.9h.1M746.8 799.1h.1M764.8 799.1h.1M780.6 799.7h.1M797.2 798.4h.1M814.0 799.2h.1M829.7 798.2h.1M848.3 799.5h.1M864.0 800.1h.1M881.9 798.9h.1M914.1 798.1h.1M931.3 799.4h.1M948.5 799.2h.1M965.6 799.8h.1M983.4 799.1h.1M1000.1 799.4h.1M1015.5 798.0h.1"/>
<path stroke-width="5.0" stroke-opacity="0.12" d="M662.3 664.1h.1M780.4 663.9h.1M999.0 662.7h.1M830.9 681.6h.1M830.0 698.1h.1M663.0 715.1h.1M1017.5 716.0h.1M613.2 731.9h.1M697.0 732.1h.1M712.8 731.9h.1M729.2 731.7h.1M814.5 731.5h.1M865.4 731.4h.1M999.7 731.3h.1M679.2 749.5h.1M730.3 749.6h.1M846.7 749.5h.1M1015.9 748.7h.1M695.8 764.9h.1M729.9 764.1h.1M831.5 764.5h.1M881.4 764.6h.1M898.0 765.6h.1M916.0 765.6h.1M679.5 782.3h.1M695.3 782.5h.1M746.8 783.2h.1M780.1 781.3h.1M864.7 782.9h.1M931.3 782.0h.1M999.5 782.1h.1M611.1 799.7h.1M696.6 799.7h.1M898.4 799.5h.1"/>
<path stroke-width="5.2" stroke-opacity="0.07" d="M1003.0 504.2q-0.4 6.9 0.9 13.8M1019.5 500.3q0.4 10.2 0.3 20.4M1020.9 502.3h.1M1017.9 509.5h.1M954.2 461.7h.1M1022.2 460.8h.1M988.4 362.8h.1M1005.6 361.5h.1M1005.5 353.6h.1M1021.8 351.7h.1M702.6 306.2h.1M819.0 308.3h.1M820.3 302.6h.1M852.2 308.7h.1M854.3 303.6h.1M871.7 310.6h.1M871.9 305.5h.1M906.0 304.7h.1M921.5 306.9h.1M953.5 307.8h.1M951.5 302.3h.1M972.1 307.9h.1M987.7 310.7h.1M985.9 304.6h.1M1004.9 304.5h.1M1022.9 310.1h.1M1024.6 305.2h.1M956.6 184.3h.1M972.1 189.6h.1M971.0 185.1h.1M986.6 184.6h.1M1018.7 184.9h.1"/>
<path stroke-width="5.2" stroke-opacity="0.12" d="M599.6 503.3q0.5 8.2 -0.2 16.4M599.6 512.2h.1M771.7 501.4q1.9 8.4 0.9 16.9M770.0 509.0h.1M801.3 501.3q-1.9 8.9 -0.1 17.8M803.2 511.2h.1M936.1 501.9q0.3 9.9 -0.3 19.8M934.9 512.2h.1M972.8 503.3q-1.9 7.2 -0.6 14.3M988.8 502.6q-1.1 8.5 -0.7 16.9M987.9 518.5h.1M987.7 504.6h.1M987.2 511.8h.1M1002.3 517.0h.1M1002.6 506.2h.1M1019.1 519.6h.1M905.1 460.5h.1M954.1 468.1h.1M970.8 459.1h.1M1020.2 470.1h.1M822.6 398.9h.1M867.8 404.9h.1M1005.1 404.6h.1M1022.0 399.6h.1M1021.1 402.9h.1M904.1 358.7h.1M955.4 353.3h.1M971.9 361.1h.1M971.8 352.8h.1M1020.2 363.5h.1M701.3 310.3h.1M735.9 309.6h.1M734.6 304.3h.1M755.8 303.1h.1M769.5 303.6h.1M786.2 307.5h.1M803.2 309.2h.1M836.5 309.5h.1M836.7 302.6h.1M904.6 309.2h.1M938.3 308.3h.1M1004.8 309.8h.1M917.0 180.9h.1M939.7 184.6h.1M937.4 181.4h.1"/>
<path stroke-width="5.2" stroke-opacity="0.2" d="M700.9 616.2q-1.6 8.9 0.4 17.8M719.4 617.5q1.1 8.3 0.3 16.5M717.7 625.5h.1M751.9 620.6q1.1 6.3 -0.0 12.5M853.4 618.6q-1.1 6.7 -0.2 13.4M987.9 616.7q1.9 7.7 -0.8 15.5M988.2 624.2h.1M598.2 505.3h.1M718.4 501.2q-1.2 9.7 0.2 19.5M717.2 503.2h.1M753.1 503.0q1.9 8.1 -0.6 16.2M753.0 505.0h.1M752.6 511.0h.1M771.1 517.3h.1M770.3 503.4h.1M800.6 518.2h.1M817.5 501.3q-1.5 9.7 0.1 19.3M871.3 501.8q0.6 9.8 -0.9 19.6M870.1 509.7h.1M936.5 520.7h.1M936.6 503.9h.1M955.6 500.4q-2.0 10.2 0.8 20.4M955.8 502.4h.1M972.5 516.6h.1M889.3 458.7h.1M904.6 466.7h.1M920.2 461.2h.1M937.6 460.0h.1M972.7 469.9h.1M1004.9 463.0h.1M585.5 400.4h.1M586.3 405.5h.1M806.1 407.1h.1M821.2 413.4h.1M869.7 411.3h.1M868.3 396.3h.1M904.0 404.3h.1M921.0 399.6h.1M938.3 413.3h.1M971.3 399.0h.1M968.8 405.1h.1M1003.3 411.5h.1M1003.5 399.1h.1M1022.1 411.2h.1M752.1 362.9h.1M753.9 352.1h.1M768.2 353.5h.1M823.3 352.1h.1M837.2 351.9h.1M853.2 352.4h.1M869.6 354.0h.1M885.0 361.3h.1M885.3 353.1h.1M903.4 363.1h.1M920.9 362.4h.1M938.2 360.8h.1M938.2 353.2h.1M956.9 363.2h.1M718.0 311.9h.1M718.3 304.5h.1M754.4 308.7h.1M770.0 310.8h.1M705.1 180.9h.1M737.4 185.0h.1M738.3 180.6h.1M749.1 183.5h.1M785.4 185.4h.1M785.5 182.8h.1M801.6 181.9h.1M822.5 185.3h.1M840.0 181.5h.1M854.2 189.6h.1M870.1 188.3h.1M901.6 184.2h.1M917.3 184.8h.1"/>
<path stroke-width="5.2" stroke-opacity="0.3" d="M601.7 620.2q-2.1 6.1 -0.4 12.1M617.9 618.5q1.0 8.2 -0.7 16.5M684.4 618.5q-1.6 6.7 0.0 13.4M700.8 618.2h.1M719.8 619.5h.1M787.0 617.0q-2.2 8.9 -0.2 17.7M786.0 625.7h.1M869.5 619.3q-1.4 7.9 -0.2 15.8M869.7 628.8h.1M920.5 619.4q1.5 6.9 0.4 13.8M971.5 617.4q-2.5 8.3 -0.5 16.7M972.5 624.9h.1M988.5 631.2h.1M1021.4 620.7q-0.9 6.3 -0.3 12.6M582.6 500.9q1.1 10.1 0.2 20.3M583.6 511.9h.1M598.8 518.7h.1M635.6 499.3q-1.2 10.1 -0.6 20.2M636.9 508.9h.1M700.3 502.9q1.3 7.6 0.6 15.3M699.7 504.9h.1M699.6 512.3h.1M718.1 519.7h.1M735.6 503.3q0.8 8.8 -0.8 17.6M734.8 505.3h.1M752.9 518.2h.1M786.3 500.7q2.3 8.6 -0.3 17.1M786.5 502.7h.1M788.0 507.8h.1M818.3 503.3h.1M836.3 503.4q0.5 8.2 0.0 16.4M836.9 505.4h.1M854.8 503.4q0.4 7.9 0.2 15.7M853.7 505.4h.1M856.6 512.2h.1M871.5 503.8h.1M902.7 501.5q-0.7 8.7 -0.0 17.3M904.6 509.1h.1M955.9 519.8h.1M584.2 469.6h.1M586.0 460.8h.1M803.9 459.3h.1M818.3 458.7h.1M833.9 467.2h.1M850.7 469.3h.1M852.0 459.5h.1M870.5 469.5h.1M869.6 460.1h.1M889.6 468.0h.1M920.9 468.0h.1M991.0 468.2h.1M1004.7 469.1h.1M584.5 412.2h.1M602.1 405.8h.1M686.2 399.3h.1M686.1 404.3h.1M705.0 405.1h.1M735.7 409.7h.1M737.2 399.7h.1M768.4 410.3h.1M788.3 399.6h.1M804.8 413.0h.1M805.3 400.2h.1M836.6 400.3h.1M853.5 410.3h.1M851.9 398.8h.1M884.6 399.4h.1M905.4 398.5h.1M922.3 412.0h.1M956.8 412.2h.1M970.6 410.2h.1M986.1 411.9h.1M617.1 362.4h.1M617.0 353.6h.1M651.6 352.2h.1M717.2 363.4h.1M733.2 350.3h.1M768.9 360.8h.1M787.1 352.0h.1M822.4 361.7h.1M837.4 363.0h.1M853.1 364.3h.1M871.1 361.3h.1M616.7 301.9h.1M650.9 302.1h.1M669.6 302.3h.1M685.9 304.5h.1M603.5 184.4h.1M704.0 183.9h.1M765.8 188.7h.1M767.7 184.0h.1M840.0 184.7h.1"/>
<path stroke-width="5.2" stroke-opacity="0.42" d="M584.7 620.1q-0.2 6.1 -0.3 12.1M652.3 619.8q0.2 6.1 -0.7 12.1M669.2 615.5q0.6 8.9 0.8 17.7M670.4 626.0h.1M683.3 620.5h.1M701.5 633.0h.1M720.1 633.1h.1M735.8 619.1q0.6 7.5 -0.2 15.0M734.5 628.1h.1M769.3 618.0q-1.1 8.3 -0.2 16.7M770.3 620.0h.1M767.8 625.9h.1M836.5 617.2q1.8 8.5 0.1 16.9M836.3 624.5h.1M853.9 631.0h.1M869.0 634.1h.1M868.2 621.3h.1M886.0 618.7q0.3 8.1 0.7 16.1M886.9 620.7h.1M887.1 625.1h.1M903.2 618.7q1.9 8.1 -0.3 16.2M938.0 619.9q-0.9 6.2 -0.3 12.4M970.6 633.1h.1M1021.4 632.3h.1M582.6 520.2h.1M582.0 502.9h.1M617.5 501.6q-1.0 9.5 0.2 19.1M635.4 501.3h.1M653.8 501.5q0.3 8.8 0.7 17.6M652.7 511.5h.1M669.2 500.8q-1.4 9.4 -0.6 18.7M670.4 512.0h.1M685.6 502.9q2.5 7.6 -0.1 15.1M683.7 509.6h.1M699.6 517.2h.1M735.6 519.9h.1M786.2 516.8h.1M816.8 519.7h.1M835.8 518.8h.1M853.9 518.1h.1M871.0 520.5h.1M887.4 501.8q1.7 7.3 0.4 14.6M903.0 517.8h.1M902.7 503.5h.1M919.5 501.8q-2.2 8.8 -0.4 17.5M919.0 511.5h.1M601.6 458.5h.1M633.9 469.0h.1M633.1 458.9h.1M716.9 469.0h.1M717.8 461.3h.1M733.7 460.3h.1M789.0 459.3h.1M803.4 468.6h.1M819.1 466.9h.1M602.7 399.5h.1M631.9 399.3h.1M631.1 405.1h.1M651.4 398.0h.1M652.4 405.0h.1M667.6 410.5h.1M686.4 410.3h.1M752.7 399.8h.1M837.1 410.5h.1M884.0 411.5h.1M904.3 411.4h.1M602.3 353.3h.1M635.7 351.7h.1M636.0 356.7h.1M651.7 362.2h.1M669.1 357.8h.1M684.8 353.8h.1M698.7 361.7h.1M788.2 361.6h.1M803.3 351.8h.1M584.1 303.6h.1M617.9 309.1h.1M649.9 309.4h.1M668.5 308.0h.1M684.1 308.9h.1M667.0 186.1h.1M722.6 185.3h.1M723.1 181.1h.1"/>
<path stroke-width="5.2" stroke-opacity="0.56" d="M586.1 622.1h.1M601.4 631.3h.1M634.0 619.7q0.7 6.4 -0.3 12.8M652.4 621.8h.1M669.8 617.5h.1M684.4 630.9h.1M736.4 621.1h.1M770.0 633.7h.1M803.1 616.9q2.1 9.2 -0.2 18.3M803.9 627.9h.1M820.4 618.7q1.6 6.1 -0.9 12.2M835.5 619.2h.1M885.5 633.8h.1M902.0 620.7h.1M920.6 632.3h.1M938.5 621.9h.1M954.8 616.7q1.8 9.0 -0.6 18.0M1004.2 619.7q2.4 6.1 0.2 12.2M618.4 503.6h.1M636.3 518.5h.1M654.2 518.1h.1M687.0 504.9h.1M886.3 503.8h.1M920.5 503.8h.1M601.7 468.3h.1M652.0 468.8h.1M667.9 467.5h.1M702.9 469.1h.1M701.0 460.0h.1M771.5 460.0h.1M788.4 469.0h.1M633.5 412.7h.1M650.2 412.3h.1M702.6 411.3h.1M752.4 411.4h.1M601.0 360.9h.1M636.9 363.4h.1M671.8 351.5h.1M686.8 362.1h.1M803.7 361.3h.1M585.4 310.0h.1M601.7 302.6h.1M617.3 181.7h.1M647.5 183.1h.1M667.2 189.0h.1M686.5 184.1h.1"/>
<path stroke-width="5.2" stroke-opacity="0.72" d="M634.9 621.7h.1M670.1 632.2h.1M736.0 633.1h.1M801.6 618.9h.1M903.9 634.0h.1M938.8 631.3h.1M953.9 618.7h.1M668.7 518.6h.1M686.3 517.0h.1M886.8 515.4h.1M919.6 518.3h.1M616.2 468.0h.1M686.4 461.4h.1M751.9 469.6h.1M615.3 409.9h.1M671.0 363.2h.1M601.4 309.0h.1M586.0 184.4h.1M634.3 184.3h.1M686.3 188.5h.1"/>
<path stroke-width="5.2" stroke-opacity="0.88" d="M633.6 631.5h.1M803.7 634.2h.1M955.0 633.8h.1M1003.4 630.9h.1M685.8 467.6h.1M632.0 187.8h.1"/>
<path stroke-width="5.2" stroke-opacity="1.0" d="M819.8 629.9h.1"/>
<path stroke-width="4.0" stroke-opacity="0.07" d="M957.6 550.2l-4.2 11.0M905.1 458.5q2.4 4.6 -0.2 9.2M954.1 459.7q1.9 4.7 0.8 9.4M972.3 457.1q2.2 6.9 0.2 13.7M1021.0 458.8q-0.4 6.1 -0.9 12.2M821.3 396.9q-2.1 8.8 -0.8 17.5M939.2 396.9q0.3 8.7 1.0 17.4M1021.3 397.6q2.1 7.3 0.9 14.6M920.8 350.3q-2.2 6.6 -0.1 13.1M956.4 351.3q1.8 6.4 0.2 12.8M971.9 350.8q-1.4 5.7 -0.1 11.3M989.0 351.2q2.0 6.3 0.3 12.6M1005.4 351.6q-0.1 5.4 0.6 10.9M1020.5 349.7q0.0 7.4 0.9 14.8M701.9 304.2q1.6 3.5 -0.4 7.1M735.2 302.3q0.4 4.2 -0.4 8.4M754.9 301.1q-1.3 4.3 0.3 8.6M769.1 301.6q-0.6 5.1 -0.3 10.2M786.1 300.8q-1.0 3.9 0.8 7.8M802.9 301.3q1.6 4.4 -0.6 8.8M819.6 300.6q-1.0 4.3 0.7 8.7M836.4 300.6q-1.1 4.9 0.7 9.9M852.8 301.6q-0.3 4.1 0.5 8.2M871.1 303.5q-0.1 4.0 -0.0 8.1M889.5 302.0q0.7 5.0 0.0 9.9M905.5 302.7q-0.2 3.7 0.2 7.5M922.1 297.7q-0.8 5.1 -0.1 10.3M938.0 300.8q0.1 4.3 -0.8 8.6M952.6 300.3q1.1 4.3 0.2 8.5M971.5 300.4q-0.9 4.3 0.4 8.5M987.2 302.6q-1.2 4.5 -0.9 9.1M1003.9 302.5q0.1 4.1 0.3 8.3M1023.6 303.2q-0.1 4.0 0.3 8.0M584.9 277.3l-2.4 6.3M602.1 276.7l-2.8 7.3M636.8 274.6l-3.7 9.8M653.7 276.3l-2.6 6.9M668.0 274.8l-3.4 8.9M686.1 275.3l-2.4 6.3M702.7 276.0l-2.7 7.0M720.2 275.2l-3.3 8.7M738.4 276.6l-2.7 7.2M752.8 275.5l-3.3 8.8M770.4 277.3l-2.4 6.4M786.5 276.2l-2.5 6.6M805.6 274.6l-3.2 8.3M822.3 274.4l-3.0 7.9M855.2 274.5l-3.4 9.0M737.3 178.6q-1.1 3.7 0.9 7.4M786.3 180.8q1.6 2.8 -0.5 5.5M821.9 178.3q-1.3 4.0 -0.3 8.0M853.9 182.9q-1.7 3.9 0.4 7.7M869.7 183.0q-1.9 3.2 -0.8 6.3M885.3 180.3q-1.0 3.7 0.8 7.5M902.2 179.3q0.1 2.9 -0.4 5.9M917.3 178.9q1.7 3.5 0.3 6.9M938.7 179.4q0.7 3.1 0.8 6.2M957.1 182.3q-1.6 3.6 -0.0 7.3M971.7 183.1q0.9 3.7 0.2 7.5M986.6 182.6q1.6 3.1 0.5 6.2M1002.7 177.9q2.5 3.1 -0.7 6.2M1019.0 179.8q-1.6 3.1 0.0 6.2M852.7 108.5l-2.1 5.6M904.0 107.3l-2.2 5.9M956.1 111.2l-2.6 6.8M972.0 111.4l-2.0 5.2M987.9 108.7l-2.4 6.3M1006.5 105.8l-2.0 5.2M1021.9 109.5l-2.4 6.3"/>
<path stroke-width="4.0" stroke-opacity="0.12" d="M820.9 554.7l-3.2 8.4M840.4 553.5l-3.0 7.9M989.5 553.7l-3.4 8.8M1024.9 552.9l-3.5 9.2M584.9 458.8q2.1 5.9 -0.3 11.7M834.9 458.6q0.9 4.8 -0.7 9.6M851.4 457.5q0.9 6.4 -0.5 12.7M870.9 458.1q-2.1 6.2 -0.2 12.4M888.9 456.7q-2.1 6.2 0.8 12.3M920.1 459.2q0.1 4.9 -0.0 9.7M936.6 458.0q-0.3 5.4 0.6 10.7M990.4 458.5q0.5 5.3 0.8 10.7M1005.6 461.0q-1.4 4.5 0.2 9.1M584.9 398.4q1.6 7.4 0.2 14.8M736.3 397.7q-0.8 6.5 0.1 13.0M768.6 398.9q0.1 6.2 -0.7 12.3M805.1 398.2q-2.2 7.9 0.8 15.8M853.3 396.8q0.1 7.2 0.8 14.5M869.3 394.3q-0.3 9.0 -0.8 18.0M903.9 396.5q-2.2 7.9 -0.1 15.9M921.8 397.6q-0.1 7.7 0.3 15.5M956.4 396.3q0.5 8.5 -0.2 17.0M970.2 397.0q0.3 7.1 -0.2 14.2M986.4 395.3q-0.9 8.8 0.0 17.5M1003.3 397.1q0.6 7.7 -0.9 15.4M583.5 351.7q-0.9 5.2 -0.8 10.5M617.8 351.6q-1.0 5.9 -0.2 11.8M717.4 350.9q-1.5 6.7 0.5 13.5M753.0 350.1q-2.2 6.9 0.8 13.8M769.6 351.5q-0.3 5.1 -0.9 10.3M821.9 350.1q1.5 6.3 0.5 12.5M838.3 349.9q0.3 7.0 0.5 14.0M852.4 350.4q-1.3 7.4 -0.4 14.8M870.5 352.0q1.8 5.2 1.0 10.4M885.3 351.1q-2.1 5.6 0.6 11.1M903.1 349.6q0.4 7.2 0.6 14.5M938.6 351.2q-1.8 5.3 0.6 10.6M684.5 302.5q0.6 3.7 0.9 7.4M718.5 302.5q0.5 5.2 0.7 10.3M620.8 277.4l-2.4 6.3M839.1 276.4l-2.4 6.4M603.4 178.8q2.0 3.3 -0.0 6.6M704.5 178.9q-2.3 3.0 0.1 6.0M749.3 181.5q2.4 3.7 -0.6 7.4M766.5 182.0q0.7 3.8 -0.4 7.7M802.9 179.9q0.4 2.7 0.1 5.4M839.2 179.5q2.2 3.1 -0.5 6.2M803.7 109.5l-2.1 5.5M886.8 110.0l-2.2 5.9M922.2 107.8l-2.1 5.6M939.3 110.6l-2.4 6.2"/>
<path stroke-width="4.0" stroke-opacity="0.2" d="M670.6 550.3l-3.8 9.9M788.0 552.0l-3.9 10.2M939.5 551.9l-3.2 8.5M973.1 551.9l-3.6 9.4M1007.4 552.2l-4.0 10.6M601.0 456.5q-0.4 6.4 -0.3 12.8M632.9 456.9q-2.1 6.5 -0.0 13.1M717.4 459.3q2.2 5.4 -0.1 10.7M733.6 458.3q-1.3 5.5 0.4 10.9M787.7 457.3q1.8 6.4 0.6 12.8M804.0 457.3q-0.3 6.2 0.9 12.4M818.3 456.7q-0.2 5.6 0.2 11.2M602.1 397.5q0.2 7.7 -0.6 15.3M667.7 396.7q0.5 7.4 0.8 14.8M686.5 397.3q-1.4 7.0 -0.1 14.0M703.4 397.0q-0.4 7.6 -0.5 15.2M719.5 396.9q0.4 8.5 -0.7 16.9M751.9 397.8q1.1 7.3 -0.8 14.5M787.3 397.6q-1.9 6.4 0.4 12.8M837.6 398.3q-1.6 6.6 -0.5 13.2M884.9 397.4q0.0 7.5 0.8 15.1M601.5 351.3q-2.3 5.3 -1.0 10.5M652.3 350.2q1.6 6.5 -0.3 13.0M699.4 352.7q2.0 5.0 0.4 10.0M734.3 348.3q2.2 7.4 -0.3 14.8M788.4 350.0q-0.6 6.3 0.7 12.6M804.4 349.8q0.3 6.2 -1.0 12.4M617.2 299.9q2.2 5.1 0.6 10.2M634.9 300.6q2.2 5.1 0.8 10.2M650.2 300.1q1.4 5.2 -0.2 10.3M668.6 300.3q1.9 4.4 -0.3 8.8M872.5 274.9l-3.0 8.0M666.9 184.1q-0.4 2.9 -0.4 5.8M722.3 179.1q0.1 3.6 -0.3 7.2M685.1 109.7l-2.0 5.4M835.5 107.6l-2.2 5.8M872.6 110.9l-2.3 6.2"/>
<path stroke-width="4.0" stroke-opacity="0.3" d="M618.8 552.9l-3.9 10.4M771.6 550.5l-3.8 9.9M804.9 552.1l-4.2 11.1M856.0 551.4l-3.1 8.2M923.0 551.8l-4.6 12.1M616.4 457.3q2.5 5.8 0.1 11.7M651.7 456.2q1.7 6.8 0.5 13.7M667.9 459.2q1.8 4.7 0.6 9.3M702.4 458.0q-2.5 6.1 0.0 12.1M751.8 458.4q-0.9 6.1 -0.0 12.1M771.0 458.0q2.0 5.2 0.4 10.3M616.1 398.8q-1.7 6.0 0.8 12.1M632.9 397.3q-0.2 8.2 -0.6 16.4M651.0 396.0q2.4 8.6 0.7 17.3M636.9 349.7q1.1 7.4 -0.5 14.8M670.8 349.5q1.2 7.4 0.2 14.7M685.9 351.8q1.7 5.7 0.5 11.3M584.7 301.6q-0.6 4.7 -0.2 9.4M601.7 300.6q-0.4 4.7 0.5 9.4M973.3 275.2l-2.5 6.5M585.9 179.2q-1.0 3.1 0.6 6.2M618.6 179.7q0.9 2.7 0.8 5.5M647.9 181.1q-1.2 3.7 -0.3 7.4M685.6 182.1q0.7 3.7 0.6 7.3M586.0 106.6l-2.6 6.9M704.1 110.3l-2.8 7.3M735.5 106.3l-2.8 7.5M753.9 107.8l-2.5 6.5M771.5 108.7l-2.7 7.0M822.1 106.6l-2.5 6.7"/>
<path stroke-width="4.0" stroke-opacity="0.42" d="M586.9 549.1l-4.3 11.3M637.8 552.8l-4.3 11.4M686.8 551.9l-3.0 7.8M703.8 550.6l-4.4 11.6M737.8 553.1l-3.2 8.4M754.9 551.5l-3.8 10.0M889.7 551.6l-4.4 11.5M686.1 459.4q0.2 4.6 -0.0 9.2M887.8 276.1l-2.5 6.7M937.6 276.2l-3.0 7.9M632.9 182.3q-0.0 3.3 -0.3 6.5M601.6 111.8l-2.7 7.1M617.3 109.7l-2.5 6.6M634.5 107.6l-2.9 7.7M652.7 108.0l-2.2 5.9M670.4 110.2l-2.5 6.6M721.2 110.2l-2.4 6.3M786.4 111.5l-2.1 5.6"/>
<path stroke-width="4.0" stroke-opacity="0.56" d="M602.4 551.9l-3.5 9.2M720.1 552.8l-3.7 9.8M905.0 277.4l-2.6 6.7M990.3 274.7l-2.7 7.1M1007.0 273.8l-3.4 8.9"/>
<path stroke-width="4.0" stroke-opacity="0.72" d="M653.7 552.3l-4.0 10.5M871.1 549.9l-4.2 11.2M903.8 554.8l-3.4 9.1M922.2 275.8l-3.5 9.3M956.2 275.2l-3.2 8.5M1021.9 276.2l-3.3 8.7"/>
<path stroke-width="3.6" stroke-opacity="0.07" d="M581.1 71.9q3.2 0.9 6.3 7.4M605.1 77.2q-2.3 1.5 -5.6 8.2M610.3 75.4q-5.1 2.7 -7.9 1.6M621.8 78.0q4.5 3.4 9.0 6.4M655.8 76.4q1.9 5.2 -0.6 7.7M680.0 75.9q0.2 0.8 -5.0 6.7M703.5 82.7q4.1 2.7 8.5 3.4M718.3 74.1q4.0 -0.9 8.4 2.2M746.2 76.3q-5.2 0.5 -7.8 5.4M779.3 75.3q-4.5 1.9 -5.8 3.9M795.0 72.7q-1.5 6.3 -7.4 7.2M810.0 79.7q-6.7 -0.9 -8.1 3.4M819.9 80.6q3.9 1.3 6.3 7.7M830.1 76.4q6.0 3.3 6.3 6.9M871.1 74.9q1.1 6.2 -0.1 7.4M878.3 72.8q2.3 4.0 1.4 7.7M899.0 71.8q-2.1 4.6 -4.5 10.8M906.8 78.4q-0.6 3.8 -3.9 9.4M916.3 83.2q5.7 0.7 7.2 1.6M937.8 74.1q-1.4 7.4 1.0 11.4M963.1 73.0q3.0 5.4 1.2 7.1M1006.9 81.3q-5.3 2.5 -5.8 2.0M1019.7 78.9q-1.3 4.0 -0.5 7.5M596.0 90.0q-5.6 -0.6 -11.5 4.6M604.8 87.9q-0.4 4.7 1.3 9.2M633.8 90.9q-1.7 1.2 -7.1 2.2M679.6 87.0q1.8 -1.9 6.7 1.3M734.9 87.2q-0.8 6.6 -1.5 7.4M745.3 86.2q-4.9 0.7 -8.3 3.4M759.3 95.4q-2.9 4.2 -9.2 2.8M771.5 92.6q2.2 2.0 0.7 6.9M789.9 89.4q0.1 4.5 5.2 3.7M807.8 84.4q-0.2 8.6 -1.0 12.0M820.8 83.0q-0.2 6.5 -5.5 11.5M842.4 90.8q7.8 0.4 11.5 2.1M904.6 83.6q-4.6 5.8 -10.8 7.1M910.2 86.2q-5.6 2.9 -8.6 6.3M917.5 92.5q1.6 3.2 5.4 8.2M943.6 86.8q-1.8 -1.1 -7.4 2.2M955.7 82.2q1.8 8.0 -1.1 12.7M986.4 87.4q2.5 7.7 2.3 11.6M1001.0 89.1q3.1 3.1 3.8 9.3M1005.7 82.8q1.6 2.8 2.8 8.7M610.0 100.6q1.7 2.6 6.9 4.0M631.2 99.8q1.8 4.2 1.3 6.3M644.1 96.5q3.3 2.7 11.6 5.8M662.2 103.2q1.1 -0.2 7.4 4.6M677.0 99.8q-0.8 0.8 -6.1 2.9M694.1 96.7q-0.2 -0.3 -4.5 5.3M710.9 94.2q-2.8 8.8 -4.2 11.6M732.3 100.3q2.2 5.8 5.6 7.1M758.3 95.0q-6.6 6.6 -7.8 8.1M771.7 95.2q-3.9 5.0 -4.6 10.2M778.1 92.7q4.8 8.7 4.6 11.4M789.5 95.4q3.8 2.8 3.8 9.1M816.9 99.4q-3.1 0.9 -7.0 3.6M844.1 94.2q0.8 7.9 -2.2 10.3M894.3 96.1q-8.3 1.4 -12.5 2.5M938.1 94.1q3.6 5.3 4.6 5.1M957.8 94.5q0.3 5.4 3.4 7.4M982.5 102.1q0.3 2.5 -1.9 7.4M1000.6 96.8q-2.2 4.3 -4.4 6.2M1011.3 93.1q5.0 4.0 4.3 10.3M597.9 105.1q1.5 4.4 0.4 11.0M616.8 100.2q0.2 5.5 -1.6 12.4M624.6 112.5q2.5 4.1 4.2 5.0M644.6 107.1q-3.5 3.4 -6.3 8.9M657.1 101.2q-4.8 7.8 -4.3 10.5M716.9 112.1q6.7 3.9 8.4 3.9M738.0 104.9q-4.6 3.7 -7.0 9.0M767.4 111.7q-0.3 1.9 3.4 8.3M783.4 113.5q-6.5 1.5 -10.4 2.2M797.1 111.4q-2.4 1.2 -1.0 7.6M825.3 103.5q-0.3 4.7 4.4 9.2M849.4 105.5q1.9 3.3 6.7 5.3M867.6 104.0q0.3 2.9 6.3 5.8M905.3 108.4q-4.4 0.6 -6.2 3.6M914.6 112.1q3.1 1.4 4.5 4.2M931.2 109.1q-0.0 3.8 0.4 11.7M949.5 106.9q-5.1 2.9 -6.0 8.5M963.6 106.6q7.2 -0.2 10.4 5.1M984.7 110.5q-2.3 6.6 -6.3 9.0M990.9 110.5q3.0 -1.5 7.4 1.6M1021.4 107.0q3.9 5.4 3.6 7.4M596.5 118.8q4.9 1.0 6.2 2.0M605.6 117.4q2.2 6.5 5.9 7.5M696.3 113.5q2.0 2.9 -0.7 8.4M702.4 118.4q1.0 -1.0 7.6 1.8M741.6 118.9q1.0 3.8 3.5 9.1M754.0 113.1q2.9 2.0 2.0 6.9M764.6 114.7q4.3 3.8 7.1 8.7M779.6 114.9q1.1 0.6 4.0 4.5M798.8 122.6q2.7 -2.0 6.0 1.2M843.7 117.5q0.4 5.6 -0.8 7.4M865.3 113.2q-0.6 4.8 0.8 6.7M908.8 115.0q-2.1 6.4 -9.4 8.1M912.7 121.9q-3.3 2.7 -2.9 6.8M963.2 117.9q6.1 3.0 9.6 5.1M972.1 113.7q1.6 1.5 1.7 7.0M996.5 118.3q-3.0 5.7 -0.8 10.4M620.2 123.0q0.5 2.7 1.9 11.1M658.3 131.9q-6.6 1.5 -7.5 2.8M669.8 122.7q-2.4 5.7 -4.1 11.1M734.5 126.1q-4.2 2.7 -10.1 7.0M797.8 125.1q0.1 1.9 2.7 6.5M826.3 127.6q-3.8 5.1 -4.2 4.4M850.1 123.6q-1.0 2.5 -3.5 9.9M890.4 125.9q4.2 4.4 5.9 3.4M923.2 128.8q4.4 4.5 9.8 3.6M941.7 122.8q0.1 2.4 1.7 10.2M954.9 126.9q5.0 5.3 4.6 4.9M979.6 126.1q0.7 6.0 1.8 11.3M999.0 123.8q-0.8 2.0 -5.6 5.8M1012.7 129.4q-1.8 3.2 -7.1 8.0M1026.7 129.7q-1.8 6.2 1.7 8.4M602.5 136.7q1.7 7.2 1.1 8.8M633.9 139.1q1.3 3.4 0.1 9.9M703.1 140.3q3.0 2.8 8.6 7.5M769.8 136.3q-2.0 6.4 -0.6 10.9M782.1 139.8q-3.6 6.7 -1.4 8.8M815.7 140.6q-0.1 4.1 5.1 7.4M866.2 132.1q-3.1 4.7 -9.5 8.8M894.0 132.7q3.7 0.9 3.0 6.2M910.7 137.7q-2.9 5.8 -1.5 8.4M920.4 133.1q0.3 3.6 -4.1 4.9M939.6 132.3q1.6 7.2 -2.3 11.6M1007.9 139.9q4.4 1.1 4.9 4.1M634.1 148.5q2.5 7.5 2.3 9.1M645.8 144.5q-1.9 4.8 -4.3 9.1M667.0 148.8q-5.5 -0.8 -12.0 2.2M690.2 150.7q-4.7 5.9 -9.4 7.4M716.5 146.6q-2.0 3.7 -5.1 6.1M786.8 148.1q3.0 3.5 7.2 7.6M820.0 143.0q0.4 1.0 -4.2 4.9M847.0 143.3q4.5 6.4 7.9 9.8M861.3 149.1q3.8 6.5 2.7 8.2M903.7 143.3q4.6 4.9 4.1 5.7M918.8 142.4q-4.0 6.3 -2.6 10.1M944.4 148.3q-0.4 2.6 2.0 9.8M969.4 144.2q-5.4 1.8 -10.6 6.3M975.7 143.4q-1.8 2.0 -8.3 9.3M1010.7 143.0q-0.3 5.3 4.9 11.6M582.6 160.4q0.4 1.9 0.8 6.5M620.8 160.6q2.2 5.5 -0.6 10.8M646.9 162.5q6.9 1.8 8.2 8.8M701.8 159.3q-0.9 4.6 3.9 5.5M749.3 161.6q-3.9 0.9 -2.3 6.3M757.5 154.3q0.8 6.6 5.0 11.1M785.1 163.8q-6.4 2.6 -7.5 6.9M812.7 158.0q6.4 7.3 7.3 9.5M830.7 157.4q4.0 0.5 5.9 4.3M879.3 156.7q-4.2 0.0 -6.5 4.0M921.4 165.6q-2.0 1.2 -9.0 1.5M950.5 158.7q-0.9 4.2 -2.4 7.0M966.4 156.7q1.9 2.8 -1.3 9.7M975.7 159.4q-4.8 3.3 -5.4 11.7M995.8 160.2q-0.5 3.6 -6.8 5.1M1008.3 160.6q-0.3 6.6 -0.8 10.3M1020.3 159.7q-2.2 2.7 0.2 6.7M596.1 176.8q3.5 0.5 7.7 2.4M654.3 170.5q-4.3 3.9 -6.9 6.8M671.2 174.5q-1.4 -0.1 -7.9 4.0M674.1 169.3q2.8 1.7 7.3 8.5M703.0 174.0q-3.8 2.8 -6.7 9.7M777.7 174.5q-4.8 0.5 -4.2 6.3M792.7 166.9q1.1 8.9 1.0 12.3M822.3 170.5q-6.2 5.3 -7.8 10.2M833.8 167.9q1.6 5.0 3.6 11.9M845.3 172.0q2.1 3.8 0.7 6.9M860.4 175.9q2.4 6.4 8.3 7.3M881.3 168.0q1.7 6.6 -2.4 12.8M897.2 174.1q2.2 0.4 1.2 6.5M956.7 174.3q-0.5 5.6 -5.6 6.8M963.6 172.1q4.8 1.9 3.6 5.0M981.5 166.1q-6.3 2.2 -7.1 8.5M991.6 171.0q0.9 4.5 5.0 9.1M1008.4 173.7q4.3 5.0 3.8 5.6M642.1 184.0q7.1 3.5 10.1 3.7M682.0 178.2q-1.6 3.7 -0.2 12.8M710.6 176.4q-1.2 2.8 -4.0 10.2M728.7 182.8q-2.5 3.3 -0.4 9.2M846.4 180.5q-7.2 2.4 -10.3 7.3M851.9 183.7q2.9 5.0 1.6 10.3M873.2 182.8q-4.2 0.5 -7.4 3.0M905.6 179.3q-2.0 5.8 -3.6 11.1M919.2 181.0q-3.9 7.3 -2.5 12.5M924.7 178.8q6.1 0.9 7.5 7.4M945.4 183.9q1.2 3.1 4.0 9.2M965.0 178.4q-3.4 3.4 -1.9 6.5M979.3 183.0q-1.1 7.3 -3.0 10.5M1000.4 178.5q-2.3 3.1 -10.4 3.5M1010.5 176.4q-1.5 4.3 -1.4 7.2M1019.3 184.9q-3.3 6.3 -1.7 6.6M577.5 189.2q1.8 4.5 6.8 8.8M599.0 189.3q6.6 3.9 8.0 5.7M606.2 198.5q1.1 0.9 6.0 1.1M634.6 194.8q-1.5 3.5 -0.3 7.7M638.3 190.0q7.0 3.9 10.2 5.6M677.8 190.2q1.9 4.4 -1.5 11.0M690.8 186.2q-0.5 4.9 -3.1 12.5M714.2 199.1q-0.9 -1.4 -6.6 2.2M725.3 196.0q3.9 4.9 2.5 7.6M815.6 194.8q1.8 1.2 6.0 4.2M862.6 192.9q-0.5 3.9 5.0 10.6M876.2 194.2q1.9 4.4 5.0 6.6M898.3 191.4q1.8 0.8 8.5 5.8M914.6 193.2q4.5 4.0 7.1 6.7M927.0 196.2q8.0 2.3 10.2 5.1M961.0 191.5q6.5 0.5 11.5 2.1M978.6 188.5q4.7 3.5 4.1 8.6M1007.4 195.0q1.3 7.0 6.1 9.1M584.9 205.5q0.8 4.4 6.8 8.0M622.4 199.2q-2.8 4.8 -3.5 10.4M643.6 204.1q-2.1 5.1 0.1 12.5M712.8 204.6q-0.1 6.3 -4.8 6.8M742.8 206.6q-7.5 3.9 -9.5 3.1M760.0 204.0q3.3 1.9 6.6 8.5M794.3 199.8q-4.0 1.0 -2.8 7.4M802.9 202.8q1.9 1.6 6.4 5.3M862.6 204.6q-2.2 2.1 -6.3 9.1M881.9 199.4q5.3 3.6 7.7 3.0M917.1 201.1q-1.2 4.4 -4.3 4.8M933.3 198.9q-1.9 5.8 -4.9 10.8M951.0 205.3q-0.7 4.6 -1.0 7.6M983.2 199.0q-2.9 4.7 -4.2 5.7M997.5 203.7q-1.5 1.5 -5.9 7.0M1005.4 202.9q2.9 -1.6 7.2 2.7M648.1 209.3q-4.5 5.5 -5.9 6.8M672.5 213.6q0.1 4.2 1.6 8.2M702.0 217.3q2.8 0.2 9.4 5.5M734.4 212.6q0.9 4.7 -1.4 6.1M762.0 208.5q-2.0 1.0 -5.6 4.2M780.2 211.0q-1.4 2.0 -7.1 3.4M794.3 211.5q-2.9 1.7 -3.5 7.9M852.8 209.2q-2.6 3.5 -10.7 3.1M870.9 210.6q0.7 8.0 5.2 10.8M894.5 214.0q-1.7 4.0 -5.9 7.8M902.9 214.7q3.9 2.4 5.6 9.0M921.7 212.3q4.0 -1.1 7.4 2.0M965.6 213.7q3.2 1.1 4.0 5.9M982.4 214.5q-0.5 7.4 -6.9 9.6M988.1 209.9q4.2 3.5 10.8 6.1M1011.6 207.2q-4.2 2.0 -2.4 7.7M1023.0 209.2q4.5 1.5 5.6 5.4M599.0 222.7q2.8 5.8 6.6 7.6M661.6 216.4q-3.4 3.1 -1.9 10.9M787.7 217.7q2.3 5.1 1.0 7.0M911.1 220.7q-2.0 4.4 -7.0 7.8M920.2 220.5q-3.1 7.1 -7.0 9.7M958.1 224.4q-4.8 0.8 -8.5 6.6M969.1 217.8q-4.7 3.7 -4.8 3.7M979.4 221.8q-0.5 1.4 4.6 4.7M1006.2 222.3q-2.4 4.0 -1.1 10.7M1030.9 224.3q-2.0 5.3 -5.3 6.3M646.7 231.7q-2.4 1.3 -7.8 8.1M675.6 232.7q-5.1 3.8 -7.5 4.5M691.8 227.2q5.2 5.0 10.2 5.4M723.1 232.4q-4.1 5.0 -6.5 7.8M732.3 228.5q1.4 5.4 5.0 7.3M799.7 231.6q4.5 3.5 6.0 4.9M863.2 231.0q-1.3 2.8 0.5 6.4M919.8 230.0q0.3 6.8 -3.2 11.9M947.7 228.9q-2.6 7.1 -6.6 9.3M951.6 231.7q0.7 2.2 3.4 10.3M969.6 224.0q1.8 4.6 3.2 9.6M1000.3 231.2q1.0 5.9 -1.7 11.4M1027.8 229.4q-6.4 -0.5 -7.8 3.7M611.4 244.2q-0.3 4.9 4.6 5.0M708.7 236.0q-0.3 5.9 3.5 8.5M767.1 245.2q-3.1 -0.2 -10.4 4.1M800.5 239.8q7.4 1.1 9.9 3.5M859.1 240.9q-3.9 4.3 -3.2 8.7M885.0 234.8q1.1 7.1 -3.5 10.6M901.7 242.0q-1.7 0.2 -2.3 5.9M944.6 244.8q-1.9 4.8 -8.5 4.5M961.5 242.2q-1.2 2.3 2.7 10.0M970.7 240.9q3.8 1.5 3.6 6.6M991.8 242.7q-1.8 1.7 1.4 6.5M1009.6 240.1q0.5 6.7 -4.8 10.3M1023.3 240.8q-0.3 6.9 -2.5 8.9M667.1 251.7q1.6 2.5 1.7 6.5M695.2 248.3q0.2 9.0 -2.1 12.2M713.5 249.0q-1.1 1.4 -4.6 6.3M734.3 249.8q-2.9 2.5 -0.7 10.2M755.5 255.6q-0.8 7.5 0.3 11.1M776.8 247.0q-3.9 7.4 -4.1 9.9M807.3 250.3q3.9 3.1 7.3 10.2M836.2 255.2q-3.6 2.6 -4.3 11.2M848.5 252.1q-0.2 1.9 -2.9 8.6M863.6 251.3q-1.1 1.6 -1.5 6.3M920.7 258.1q-2.5 1.6 -4.8 7.1M931.2 253.5q4.1 5.8 4.8 9.7M947.4 256.2q1.9 3.0 7.6 9.3M976.7 256.5q-2.8 2.6 -3.2 7.3M978.6 250.4q1.4 8.9 2.6 12.4M999.7 255.0q-2.0 7.5 -1.2 9.2M1014.1 251.4q-0.4 -1.0 -4.7 4.0M636.5 264.0q-1.5 4.0 0.8 12.3M659.9 266.5q-3.3 0.6 -8.7 2.8M674.9 262.1q-3.5 2.3 -3.8 6.2M708.6 268.3q-2.4 7.0 0.1 8.3M763.0 264.3q2.6 3.0 9.8 4.5M854.8 265.2q2.5 4.4 2.3 10.6M885.5 258.4q-1.8 1.9 -1.3 8.9M891.3 260.9q6.1 3.0 10.3 5.3M914.1 263.1q0.7 3.6 1.1 9.1M932.2 266.6q-2.3 0.4 -9.5 4.4M977.1 265.7q0.0 5.5 -2.1 11.3M623.2 268.6q2.9 6.6 2.8 9.9M736.3 277.2q-0.0 3.1 2.7 7.8M766.4 275.7q0.3 6.2 3.5 10.5M864.8 275.7q-0.7 4.0 -6.1 7.1M914.9 271.6q-3.4 -0.3 -11.7 5.0M943.3 271.9q-2.6 2.7 -8.7 4.1M965.2 272.5q1.7 1.8 0.6 7.4M986.2 277.6q-2.2 1.4 -0.4 8.6M1015.0 277.4q-0.5 4.1 -0.2 7.0M590.3 279.5q2.5 6.0 1.7 11.5M630.0 288.7q2.8 0.7 3.4 5.6M679.6 282.5q0.2 3.9 -1.3 8.4M696.5 289.0q-1.9 7.0 -3.6 8.7M769.0 289.1q3.9 3.4 7.3 7.9M841.9 288.6q-4.1 1.4 -4.1 6.1M895.4 280.5q0.5 4.9 1.0 7.0M918.9 280.8q0.2 3.8 -2.1 6.0M928.9 288.5q3.8 4.2 8.4 9.7M1003.6 289.3q4.1 6.2 3.9 7.4M588.4 301.6q-5.1 5.9 -6.1 7.1M599.5 297.8q0.3 5.8 3.4 10.3M624.5 298.6q-6.8 4.6 -8.1 10.1M636.8 300.8q-8.2 1.0 -11.6 4.6M653.0 291.4q0.4 3.1 -3.1 8.6M710.4 300.0q0.9 6.6 -1.0 8.0M740.3 303.2q0.3 0.9 6.2 2.2M794.4 300.1q5.3 5.7 7.4 9.9M811.3 291.5q0.7 5.4 2.7 8.9M832.4 294.4q-4.0 2.8 -4.0 10.0M845.8 295.9q2.9 0.3 7.7 5.5M867.1 292.4q1.9 1.0 7.3 6.6M881.2 300.6q5.4 2.4 8.9 8.8M922.3 296.0q2.4 3.1 2.3 12.3M970.5 297.0q-2.7 6.4 -3.4 7.1M1012.0 300.3q-0.5 4.5 0.5 8.5M592.5 304.6q-2.2 1.4 -5.0 8.7M597.9 301.0q3.3 4.1 6.9 9.5M622.7 306.8q0.5 1.5 4.9 8.1M633.9 310.3q-0.4 1.8 2.4 7.8M677.7 305.6q1.6 5.3 7.1 8.6M707.8 306.4q1.4 0.2 6.9 5.5M759.0 308.5q1.4 6.2 1.8 6.6M896.7 305.9q-0.5 2.4 -2.1 8.1M911.0 304.0q-5.8 4.5 -7.0 7.4M929.0 311.5q-7.4 0.1 -9.3 3.2M988.6 307.2q4.8 5.9 4.9 7.4M1005.5 308.6q4.9 -0.3 11.4 2.1M602.5 317.8q1.6 4.2 8.4 6.3M617.4 318.0q-0.4 5.5 3.9 6.2M630.8 322.0q-1.5 0.9 -5.8 6.5M653.2 323.0q1.6 2.7 8.1 5.9M687.8 319.6q-2.2 6.9 -1.3 12.8M804.8 316.2q-4.1 2.5 -2.2 6.1M815.8 319.3q1.2 5.2 4.0 6.0M886.3 316.3q0.2 4.7 -4.6 5.6M904.8 315.1q3.2 5.2 4.7 8.1M924.6 316.7q0.9 7.4 -0.8 12.1M1000.5 311.6q-0.2 3.5 1.5 12.2M614.3 336.5q-2.5 3.4 -3.5 6.7M658.3 327.5q6.0 3.9 8.8 8.7M678.6 335.6q-2.7 2.8 -2.5 7.3M724.8 329.3q1.8 8.0 1.5 10.6M756.8 328.9q-1.8 4.6 -9.3 4.8M793.7 335.7q0.8 1.1 4.5 5.9M814.6 327.4q-5.0 4.1 -4.1 10.3M898.8 332.9q0.2 3.8 -4.3 8.5M910.9 328.7q0.6 6.0 -1.3 9.2M952.4 334.2q-2.0 6.8 1.8 11.0M972.7 333.4q-6.0 1.2 -11.9 3.0M992.9 329.0q0.6 3.8 -2.0 10.3M1002.3 329.6q0.1 2.4 -1.0 8.7M589.2 336.9q-1.1 2.9 -5.8 7.0M643.9 342.9q-0.9 7.2 -2.3 12.5M658.3 342.1q-4.4 4.5 -6.2 8.9M667.4 337.7q4.8 2.5 6.1 5.1M714.5 337.9q-1.6 6.3 0.6 10.8M727.7 348.1q-3.7 0.4 -6.1 1.7M767.4 346.4q-0.9 5.5 -5.2 5.1M780.0 342.0q-0.3 7.9 2.1 12.4M789.1 335.6q-0.4 3.6 -1.5 10.6M807.7 345.2q-6.5 1.3 -10.7 5.4M820.5 344.0q-5.6 5.9 -6.3 6.5M824.9 339.7q3.3 5.0 9.1 4.3M897.4 341.9q-4.8 0.1 -7.7 4.2M929.7 339.3q-2.2 2.6 -9.6 6.7M959.5 339.6q-2.2 3.3 -7.4 8.7M986.9 337.5q-0.5 5.1 0.9 7.4M1005.7 343.4q4.0 3.5 9.0 1.6M602.0 355.6q3.9 4.4 7.9 8.9M608.8 355.3q1.0 2.6 7.3 4.8M675.0 357.4q-6.0 3.9 -9.6 2.9M848.6 352.8q-3.8 1.7 -6.9 8.2M847.5 349.8q4.4 6.3 6.8 8.2M902.9 355.5q-1.1 3.1 0.7 9.1M1002.5 355.8q0.5 4.1 -1.4 6.0M578.1 360.3q4.0 2.2 7.9 3.4M598.2 363.8q3.6 6.7 7.2 7.6M665.1 360.6q-7.3 0.7 -9.6 5.6M728.7 366.6q5.1 1.3 7.6 5.0M775.0 364.1q1.5 6.1 6.4 6.4M803.8 362.3q4.2 -0.3 10.3 4.2M878.0 360.7q-1.5 3.5 -3.1 8.0M909.6 359.8q-1.1 2.4 0.8 7.8M951.1 366.2q2.1 4.7 2.5 9.2M994.9 363.0q-2.6 6.6 -4.1 10.3M1005.2 364.8q2.7 1.9 11.0 3.9M635.7 375.5q0.8 6.6 4.6 8.2M668.3 375.4q-4.0 7.5 -8.2 9.2M712.1 367.8q1.5 6.4 -1.3 12.4M723.0 373.3q-1.5 6.4 2.7 7.7M787.8 376.0q2.7 2.3 4.5 9.1M805.7 374.0q-5.7 2.3 -9.1 3.2M899.8 377.0q-0.2 1.7 4.1 6.6M910.0 375.9q8.3 3.7 11.0 4.6M942.2 374.1q-2.1 6.4 -1.6 9.5M961.3 375.7q-2.1 6.5 -0.3 9.1M981.9 377.5q3.4 6.4 6.6 10.6M588.2 380.9q-0.1 3.5 5.2 11.0M660.1 382.7q-0.7 2.1 -2.7 6.0M689.2 385.2q-5.4 -0.3 -6.8 2.5M696.2 390.9q-6.7 1.6 -7.5 5.4M728.5 388.3q1.2 2.2 1.8 6.9M740.1 386.5q0.1 6.1 1.4 8.6M784.2 383.6q3.4 2.1 2.4 10.0M843.2 390.4q-3.4 3.1 -7.1 4.0M895.7 384.7q2.7 0.9 2.1 6.0M939.6 387.8q-2.3 2.3 -9.1 2.3M998.9 387.8q2.7 3.7 3.7 8.0M611.0 397.2q4.7 5.1 4.3 6.8M648.1 392.2q-0.1 5.3 0.1 9.2M703.8 395.1q-1.8 7.1 -4.6 9.2M735.8 393.9q4.2 4.9 4.3 5.6M753.6 403.4q-1.2 5.8 -2.9 6.1M795.6 394.9q-0.5 4.8 -3.5 7.8M854.7 399.1q4.9 4.3 5.8 10.5M899.7 396.7q-1.7 1.5 2.0 5.9M906.2 393.7q1.3 1.4 1.5 7.5M1019.2 396.8q4.1 4.6 10.0 3.3M636.4 409.9q2.0 5.3 5.4 10.4M705.6 411.6q0.9 0.1 7.6 2.1M749.8 403.6q3.0 3.2 1.3 9.3M766.3 413.5q-3.7 1.8 -8.7 1.4M807.6 406.7q-4.6 -0.2 -12.1 2.9M839.7 407.2q-1.6 6.3 -2.2 11.7M843.0 408.4q-1.2 3.0 3.2 11.6M865.6 413.1q-1.9 5.5 -5.3 5.8M912.6 405.5q-2.2 2.4 1.6 7.6M939.1 412.4q-2.1 7.3 -3.7 8.6M967.1 412.0q3.6 5.9 3.3 7.8M988.0 404.6q2.5 1.9 1.4 7.5M1006.1 403.4q0.1 4.0 -0.1 12.0M1015.2 414.0q0.0 5.7 5.3 6.3M680.4 423.7q1.3 4.0 7.8 4.5M703.0 421.2q-0.5 2.1 -6.2 4.8M717.8 421.9q5.4 1.0 5.1 4.7M765.9 416.5q-1.2 3.9 -3.2 6.9M791.6 419.5q-3.8 4.2 -4.3 8.5M815.5 417.8q-0.3 4.4 -3.0 11.7M825.9 421.2q2.7 0.1 8.2 4.3M836.5 417.7q-1.9 3.4 -3.5 11.5M866.5 422.3q-1.6 3.5 0.7 10.1M894.0 420.5q5.8 3.2 8.6 1.5M929.1 416.5q-0.7 6.6 2.8 7.8M952.2 416.4q3.0 2.8 1.4 8.9M961.0 422.9q-2.1 0.4 -8.0 5.4M616.2 428.7q-2.8 0.5 -7.5 6.0M663.3 423.8q-1.0 8.1 2.2 11.7M672.3 429.2q0.1 3.9 5.8 3.3M734.0 430.0q4.2 3.9 6.0 8.6M744.7 428.6q-0.2 5.2 3.1 8.9M776.8 432.1q-0.4 2.9 4.7 7.3M863.3 431.7q2.3 3.2 -0.7 6.5M953.4 430.6q-5.1 -1.1 -10.3 3.0M960.9 434.5q3.3 4.4 9.4 4.8M991.7 428.1q3.5 4.2 7.8 8.2M621.4 440.0q-1.0 7.0 -1.0 12.6M651.8 441.6q-2.7 0.7 -10.2 3.0M708.8 448.4q2.4 1.3 6.4 7.8M753.2 442.5q1.3 5.4 -1.6 10.8M823.7 444.9q3.2 1.4 4.8 4.9M929.7 442.4q3.9 6.0 1.9 6.1M959.5 442.3q-4.9 4.6 -5.6 8.7M1003.7 440.9q0.6 0.4 -2.1 6.2M579.3 449.5q4.3 4.2 6.2 8.4M644.0 452.2q0.4 4.4 1.5 12.7M683.7 458.2q3.2 -2.2 6.8 1.2M713.2 451.6q-1.4 -0.1 -3.2 5.6M737.7 455.7q-4.6 6.3 -5.8 6.9M743.5 448.2q2.6 7.1 2.1 12.0M763.8 452.6q-2.6 3.9 -7.8 4.4M771.8 457.3q5.5 3.1 6.4 1.9M826.9 460.6q-3.8 -2.4 -7.6 1.1M836.5 451.5q7.9 0.3 10.2 3.1M886.2 455.4q-3.0 4.7 -6.3 10.5M920.8 451.9q-2.2 4.3 -4.1 5.0M969.2 449.7q2.6 1.9 7.0 8.9M1024.1 449.6q-0.6 3.3 1.0 9.9M584.3 466.1q3.3 4.6 9.8 6.9M608.4 458.9q2.6 4.4 1.3 11.6M620.9 465.0q-2.6 -0.7 -6.3 1.6M670.4 470.0q-5.0 4.3 -12.4 3.1M732.6 458.4q0.9 7.7 2.6 9.7M746.9 466.1q-2.2 0.9 -3.4 6.2M782.7 467.1q-0.6 2.4 -3.9 10.2M820.5 459.5q-2.1 3.5 1.2 7.6M831.5 464.7q3.2 4.5 6.3 7.8M887.3 463.4q2.8 1.8 4.2 4.9M898.0 463.3q5.9 3.5 7.7 2.0M974.1 467.1q2.8 5.6 4.4 10.0M618.7 481.2q-2.6 1.2 -10.6 2.9M665.8 474.6q-3.6 3.1 -5.9 6.2M672.3 475.0q0.3 4.3 5.1 6.7M684.1 476.9q6.1 6.2 9.1 7.5M761.8 478.4q-1.0 4.9 2.7 6.4M805.2 474.0q5.2 2.1 5.2 9.8M850.7 474.6q2.3 3.5 9.3 2.2M922.8 477.5q1.4 1.8 0.9 6.6M987.2 479.4q-6.4 -0.6 -7.7 4.0M998.7 475.2q-4.0 1.7 -4.4 7.0M589.7 487.1q-2.8 3.6 -5.9 2.0M598.5 485.9q-1.2 1.6 -6.4 7.5M619.3 488.4q-5.2 5.1 -6.8 8.9M642.6 490.8q1.7 0.4 5.5 2.9M678.3 488.5q-2.6 5.5 -8.6 5.8M749.7 483.3q-0.2 5.9 3.3 6.1M763.9 484.4q0.4 5.4 3.0 7.2M794.7 483.5q1.7 0.4 6.7 6.7M820.7 490.9q6.1 3.5 10.7 1.8M843.4 485.2q3.2 1.0 1.2 7.8M889.6 488.6q-4.9 3.1 -4.0 10.3M942.0 488.9q-1.2 5.2 2.9 7.9M956.3 488.2q0.3 2.4 5.1 4.1M608.1 504.9q2.2 3.1 4.6 6.4M641.3 503.5q5.2 6.8 8.3 8.5M668.9 498.3q-4.9 5.6 -10.1 7.9M671.2 497.4q4.9 1.1 7.5 8.0M696.6 499.5q-3.5 1.9 -5.2 7.1M733.4 498.6q2.0 5.7 1.0 9.9M759.7 498.7q1.9 0.5 5.8 3.6M782.4 504.0q-1.2 2.5 2.0 8.4M792.2 498.9q-4.3 -1.6 -6.4 1.2M936.1 496.5q-0.5 3.1 4.5 6.8M1005.8 502.1q1.5 6.9 -2.2 10.5M1018.6 504.0q3.4 1.9 3.2 7.3M591.2 504.1q-2.4 5.7 -4.8 11.1M628.3 510.2q1.2 3.1 7.2 9.5M747.3 504.9q1.8 2.6 0.1 7.5M765.2 510.0q5.2 -1.0 8.3 2.2M793.1 505.6q4.6 0.9 10.3 7.1M853.7 508.1q4.9 1.2 6.4 6.1M870.9 509.3q0.6 3.0 -0.9 9.4M886.5 508.1q0.6 1.6 -4.2 8.2M910.0 513.2q3.2 6.5 6.4 8.3M637.0 517.4q-0.3 -0.5 4.4 4.2M710.4 520.2q-6.0 3.2 -12.1 2.2M712.7 513.0q-0.7 4.4 -3.3 12.1M799.2 518.6q2.4 3.4 1.8 10.4M856.2 512.0q-4.3 6.7 -4.5 11.8M884.4 522.4q-5.3 1.9 -6.0 2.0M931.8 518.6q0.5 7.0 2.6 11.0M1018.9 524.0q1.4 -0.6 6.5 1.1M715.3 526.7q-2.6 1.4 -5.4 7.1M717.3 533.1q3.0 0.7 11.0 3.5M755.0 525.3q-2.7 1.7 -6.2 7.1M758.4 526.5q3.3 1.7 5.4 8.1M777.9 527.1q2.3 4.4 10.4 3.5M795.2 534.4q-3.6 4.0 -2.9 7.0M829.0 526.2q-0.0 5.7 0.8 8.5M839.5 528.2q0.7 5.8 5.2 7.0M866.1 529.5q-2.2 2.4 -7.3 1.2M898.9 534.0q3.9 -0.9 10.3 1.9M956.3 533.3q-6.7 3.9 -7.4 9.0M991.7 534.0q-1.1 0.6 -0.3 6.0M1020.6 524.4q1.8 6.9 4.6 9.5M587.1 539.6q2.1 3.2 8.1 6.5M608.9 541.6q0.2 2.5 0.3 9.1M663.7 540.1q-3.1 1.3 -7.8 3.6M694.8 534.4q-6.2 7.2 -6.6 10.4M708.9 538.7q2.0 2.0 1.6 9.2M723.4 536.5q-2.8 1.3 -3.0 5.9M770.6 537.0q4.4 -0.5 9.1 4.6M795.3 545.1q3.0 3.3 1.6 6.0M810.1 545.1q2.5 1.9 6.6 1.3M887.6 543.8q-3.0 3.3 -8.9 4.4M1002.9 537.5q-0.1 4.1 -4.7 10.7M1020.9 539.1q-5.8 4.2 -9.6 5.8M607.4 556.3q-3.0 2.6 -10.4 6.2M716.2 545.5q-3.6 5.0 -4.1 8.8M786.0 548.4q-2.0 1.6 -3.8 7.5M835.9 551.5q1.0 0.7 5.2 7.1M852.8 548.3q0.5 4.0 1.5 11.5M877.1 547.0q0.6 4.9 -1.3 9.2M894.2 552.7q2.6 8.5 1.2 12.0M918.8 549.1q4.5 3.3 5.5 9.6M942.3 545.1q1.0 4.8 0.0 10.9M972.3 549.0q4.3 4.4 3.7 11.4M989.4 551.8q1.0 5.8 1.3 12.4M619.6 565.0q-0.9 6.6 -2.9 7.9M684.1 560.5q1.2 6.0 5.2 7.4M737.0 559.3q-5.2 2.8 -6.6 8.5M754.5 565.1q-1.8 7.8 -5.0 10.9M785.3 566.8q-6.1 5.1 -10.1 5.1M809.1 561.3q-1.7 2.0 -8.6 6.7M857.1 563.8q2.4 0.5 8.6 4.5M891.0 570.7q-4.2 1.8 -6.8 1.6M907.4 565.6q-0.8 6.5 -5.0 7.3M933.0 559.4q0.7 5.6 1.4 7.4M959.9 565.2q6.4 2.1 6.7 6.6M992.6 557.5q1.4 6.6 -0.8 12.5M582.4 576.6q-0.8 1.3 3.9 8.0M617.3 572.5q-1.1 3.8 -0.1 10.8M626.5 580.7q-0.2 0.3 -2.8 5.5M660.6 579.5q-3.6 -0.8 -6.2 1.8M710.5 576.5q0.3 6.2 -4.7 6.4M725.7 577.7q-2.8 4.0 -7.8 8.7M727.6 572.6q4.5 4.1 9.8 7.2M752.0 571.1q-1.6 6.3 -3.0 11.4M800.2 576.3q0.3 4.2 -2.8 5.6M873.6 570.2q-3.3 5.4 -4.1 10.5M899.1 578.8q-2.3 2.9 -3.6 7.1M969.5 576.3q-0.4 1.2 -4.4 5.9M1007.9 580.4q-5.1 4.0 -6.8 6.0M1014.6 576.2q2.4 1.6 9.7 1.8M644.3 585.3q-1.6 5.3 -1.6 10.9M694.1 587.2q1.2 2.6 -0.8 6.8M819.7 584.4q4.3 2.4 10.2 3.2M853.2 582.5q0.9 7.5 4.3 11.2M878.3 583.5q1.4 7.6 2.7 9.5M892.6 587.1q5.0 -1.6 10.7 2.7M936.6 590.6q-2.8 -1.4 -8.1 1.2M956.3 590.6q3.6 3.2 8.5 1.4M988.8 584.5q3.1 2.2 9.1 6.2M1008.7 582.1q2.7 6.6 1.8 12.3M1023.8 582.3q-1.8 4.4 0.3 10.3M593.0 591.8q-2.3 3.4 -6.4 11.2M602.4 600.0q-3.4 6.6 -1.7 8.4M620.0 601.0q-3.3 4.1 -12.3 3.4M635.4 595.9q-2.0 6.6 -3.6 9.5M656.4 596.9q2.1 1.5 7.5 8.7M722.7 595.6q5.4 2.0 6.3 4.8M732.5 600.2q1.2 -0.1 5.8 5.7M743.1 602.0q1.5 -0.7 6.9 1.2M770.6 596.1q1.3 5.6 -1.2 9.1M780.6 602.2q7.3 -0.9 10.8 3.0M812.5 603.6q-2.7 5.1 -8.2 6.5M876.2 600.8q-2.2 2.4 -8.5 1.8M930.8 602.4q-4.4 3.4 -4.7 8.3M943.0 599.2q3.5 2.6 6.4 8.8M975.1 595.5q-0.9 7.3 -4.2 11.5M619.1 610.0q0.1 4.5 -1.6 7.8M749.6 606.5q-1.0 7.6 0.9 12.5M824.5 611.4q4.5 -1.0 10.2 3.4M912.2 602.5q-3.6 2.9 -3.9 9.3M958.0 607.7q-1.9 2.0 -1.7 8.2M984.8 609.7q-1.9 2.5 -5.8 2.6M1005.4 614.7q-3.2 4.1 -9.8 2.2M1014.0 611.8q2.4 1.4 6.6 7.3M626.7 617.6q-4.9 3.0 -6.9 2.8M635.1 612.3q2.2 2.0 0.5 7.2M686.2 620.3q0.6 1.4 4.2 5.8M726.1 614.6q2.5 3.7 0.6 7.8M893.8 616.5q-4.7 3.1 -3.8 8.1M930.4 617.4q5.5 1.6 7.3 3.9M994.4 619.9q-4.2 4.7 -2.9 10.0M1006.9 612.8q0.7 0.4 -0.8 6.3M587.5 625.9q-3.4 2.8 -7.1 6.6M602.5 629.5q3.1 4.9 2.8 10.5M610.5 630.3q1.0 1.4 5.0 6.0M756.3 626.3q0.1 5.6 -3.1 7.3M803.6 630.7q-0.5 1.0 -4.0 4.5M907.9 635.3q-7.5 2.7 -12.0 3.3M960.0 630.7q-2.4 2.8 -0.8 6.4M636.4 601.8h16.8M720.8 601.7h16.8M803.3 600.9h16.8M822.0 601.2h16.8M836.7 602.5h16.8M886.7 602.2h16.8M905.4 600.7h16.8M921.3 601.8h16.8M952.7 601.8h16.8M971.4 601.6h16.8M684.4 535.1h16.8M700.5 535.3h16.8M835.9 535.2h16.8M970.3 534.7h16.8M1006.3 535.6h16.8M1006.4 481.8h16.8M582.4 379.7h16.8M601.1 378.4h16.8M938.3 379.6h16.8M987.7 381.0h16.8"/>
<path stroke-width="3.6" stroke-opacity="0.12" d="M618.8 86.1q-3.4 -1.0 -6.3 3.7M838.0 81.5q-2.3 5.8 1.1 11.6M597.4 102.7q1.4 2.2 6.3 1.6M723.0 99.7q-1.7 1.0 -5.0 6.2M583.3 112.9q3.0 2.9 11.3 4.7M685.3 104.4q0.2 6.0 6.4 8.9M740.8 108.4q-0.7 6.1 0.7 6.4M806.9 104.5q3.2 8.4 2.5 12.7M590.2 119.9q-4.5 2.7 -5.7 2.3M723.9 116.8q-2.6 3.7 -6.9 9.2M820.4 122.6q-1.5 2.9 -4.2 4.8M831.2 117.1q-2.1 0.5 -1.1 6.2M854.1 116.2q1.0 4.9 3.4 10.5M613.0 131.4q1.1 0.6 -0.9 6.2M683.4 123.9q3.3 2.4 6.7 6.6M713.3 122.9q0.9 4.5 -1.7 6.5M738.8 123.9q0.5 7.6 0.6 12.2M753.1 126.6q3.2 4.1 8.5 8.6M764.4 123.1q3.2 5.5 8.8 8.5M784.5 123.0q1.0 3.3 -3.6 9.6M838.2 129.2q-1.6 4.1 -4.2 6.4M887.6 128.4q-1.2 4.4 -4.3 4.4M583.7 134.5q2.3 3.8 3.3 6.7M622.9 137.4q-2.5 7.3 -4.2 10.0M656.1 136.7q8.2 -0.1 10.9 4.8M674.4 139.1q2.8 5.6 5.4 11.3M716.3 134.1q2.7 6.4 5.3 7.0M738.6 133.2q5.2 2.0 4.4 5.3M749.4 141.9q-1.3 3.3 -3.9 4.6M597.3 144.1q-2.0 4.2 -3.0 7.4M620.0 141.9q1.3 7.8 -1.6 12.0M700.3 142.3q0.1 6.0 5.7 6.2M730.6 145.8q1.4 3.0 0.3 6.2M632.3 158.1q5.4 -0.7 8.7 1.6M714.8 163.1q-2.3 6.6 1.1 8.1M858.9 160.4q2.1 4.2 6.9 7.9M583.4 172.8q0.2 3.7 2.8 8.7M617.8 175.7q-4.6 0.6 -3.3 6.7M711.4 167.9q-0.3 3.9 -1.4 6.3M718.4 168.5q5.1 5.0 6.2 8.9M749.2 173.2q-7.9 0.1 -11.5 3.8M751.9 173.5q-1.0 2.3 -5.8 3.3M759.2 168.0q3.9 4.4 6.2 4.6M811.1 170.6q-2.5 0.4 -7.6 6.6M903.4 166.2q3.4 3.0 2.0 11.2M637.8 180.1q2.0 4.4 -1.1 6.5M696.9 178.9q-0.7 2.1 -3.9 10.1M738.6 185.7q-3.5 2.7 -2.9 6.1M750.9 175.1q5.6 7.7 8.6 9.7M767.5 178.6q-6.5 2.8 -8.1 8.2M777.7 177.5q-2.6 4.8 -1.0 11.2M812.9 184.0q-3.5 2.6 -4.8 6.7M658.3 190.0q4.8 0.1 11.6 3.6M750.8 193.6q4.3 6.8 6.5 8.9M799.4 199.0q4.7 -0.8 8.4 2.7M828.9 195.9q0.8 5.6 1.0 8.2M845.1 196.5q2.9 1.3 4.0 6.2M887.8 196.9q2.7 6.6 6.6 7.9M666.0 208.7q4.5 -2.0 6.2 1.4M677.1 198.0q2.0 1.0 -1.7 7.9M847.5 202.3q-6.5 0.3 -11.9 4.8M599.0 210.6q-3.2 2.2 -1.5 8.9M745.6 213.2q-0.6 3.6 4.2 5.1M868.5 209.2q0.6 5.1 -4.0 10.9M635.9 218.7q-0.2 3.2 3.9 11.2M648.0 223.8q-6.7 -0.1 -7.8 2.7M707.3 217.2q-2.6 1.1 -6.0 6.7M716.8 224.6q-0.2 -1.9 -6.2 1.7M805.6 218.7q2.0 8.2 0.6 11.5M816.0 221.3q1.2 3.3 4.3 10.7M588.7 226.4q-3.8 6.0 -2.8 11.3M608.1 230.2q0.9 1.9 -3.7 5.4M625.8 232.7q-2.0 -2.2 -6.3 1.4M690.9 228.5q-1.6 5.1 -8.7 7.7M763.9 226.2q-2.7 3.6 -8.5 7.6M795.6 228.3q-1.2 0.0 -5.7 5.6M827.8 232.6q-3.6 2.8 -2.7 6.7M856.8 231.4q2.9 3.4 5.5 4.8M602.1 241.3q-8.1 2.4 -11.8 5.3M681.7 234.6q0.1 2.3 3.8 10.4M701.4 237.9q-3.6 2.1 -5.4 8.9M748.3 238.2q-1.6 5.7 -1.4 9.6M784.3 235.1q-1.6 3.1 -6.5 9.7M829.5 241.1q1.3 6.4 -2.3 9.7M605.4 252.8q-4.0 -0.2 -5.0 3.9M626.6 254.6q-0.0 5.3 -5.3 7.4M654.7 252.5q-1.1 -0.1 -6.0 5.8M685.0 258.3q-2.0 2.8 -9.2 5.4M745.4 255.4q3.4 4.9 1.8 10.4M790.6 258.4q-2.0 4.2 -2.7 6.5M820.8 256.4q-1.3 2.7 -0.1 6.8M877.3 259.3q6.6 -0.2 8.9 4.3M889.4 252.5q-0.2 6.8 -0.0 8.2M602.8 268.4q-0.6 3.1 3.1 8.4M611.2 267.0q2.0 6.6 2.1 8.9M687.0 266.5q-0.8 4.0 4.2 8.3M718.4 262.2q-1.9 8.3 -2.3 10.7M739.2 261.3q-3.4 4.8 -7.8 4.3M779.7 264.3q-3.4 4.5 -4.3 12.0M815.3 263.6q-4.9 6.4 -4.2 9.3M828.1 268.6q-2.4 1.6 0.9 7.8M839.2 267.7q5.7 1.4 6.9 4.8M939.3 265.1q1.9 5.8 1.7 9.1M953.8 258.3q-1.6 2.8 -3.4 9.7M991.4 265.4q-2.5 4.5 -4.5 4.7M633.3 276.5q2.0 5.7 1.9 11.0M668.7 270.6q-3.0 4.1 -1.4 11.3M686.7 271.2q-4.6 5.8 -8.9 9.1M686.6 274.3q4.3 0.9 11.5 2.1M712.8 268.8q1.8 3.1 6.9 8.1M749.8 277.4q1.9 3.4 0.5 6.1M783.7 280.5q-7.1 0.3 -10.3 2.7M820.7 276.9q2.1 5.2 4.6 11.0M851.8 272.2q-1.6 0.3 2.0 5.8M896.4 267.2q1.1 3.4 2.8 12.7M997.8 280.1q4.7 3.1 5.3 3.6M605.9 287.1q0.9 4.9 -1.2 7.3M707.0 283.6q-2.6 1.4 -0.0 7.6M730.6 289.6q5.8 1.5 8.8 4.8M762.1 288.6q-5.6 3.5 -5.3 4.8M799.0 285.2q-0.1 3.9 5.5 7.2M828.0 286.2q-1.1 2.6 -3.7 11.0M981.4 282.9q0.1 7.6 -1.3 10.3M1022.5 288.6q-1.9 6.8 -6.3 8.4M684.6 302.8q-2.9 0.4 -8.9 1.3M780.1 291.2q3.6 4.2 2.4 11.6M902.6 292.7q-4.3 4.8 -3.5 9.5M947.1 297.0q0.2 4.1 4.2 7.3M982.4 292.3q-4.1 5.5 -6.5 9.1M670.5 307.4q1.3 6.7 -0.3 9.5M690.6 306.3q1.3 1.7 7.5 1.1M741.3 309.6q2.9 -1.8 6.5 1.6M781.1 301.5q5.8 4.5 7.6 10.1M801.7 310.2q1.5 1.2 1.4 6.5M815.4 310.5q-4.7 1.9 -4.4 6.2M970.2 309.8q3.3 3.9 4.7 5.8M645.1 314.7q-3.1 6.2 -1.4 10.0M717.8 321.0q3.5 -0.9 5.8 2.0M829.7 321.4q4.1 5.0 6.7 7.3M868.8 316.8q0.9 2.2 2.9 8.4M944.2 318.2q-3.1 4.6 -2.9 9.9M966.6 318.3q-3.5 7.8 -1.4 10.5M984.4 312.1q4.6 5.1 4.6 10.9M1017.3 319.4q-2.9 3.6 -0.9 10.7M581.8 336.1q1.9 4.1 3.1 6.9M597.9 338.0q3.9 0.3 11.1 3.4M695.1 327.6q0.7 3.6 -2.1 11.5M740.3 333.9q-5.4 -1.7 -8.1 1.5M772.0 329.7q2.3 2.0 1.8 7.3M777.1 330.4q4.2 4.8 11.4 5.9M850.4 332.0q0.8 3.1 4.9 7.2M886.2 333.4q-2.2 0.4 -9.1 1.9M929.7 331.9q-2.4 2.1 -2.9 8.6M626.4 339.8q-2.8 -0.7 -5.9 2.9M682.8 346.8q-3.6 2.3 -7.4 3.4M690.4 340.0q8.7 2.3 11.3 2.9M585.7 356.6q-5.4 1.0 -4.9 7.5M628.8 347.4q2.6 4.2 2.3 8.7M654.6 357.1q-0.6 1.1 -6.0 5.2M663.3 353.1q5.2 4.5 5.5 8.1M682.6 353.3q-2.4 6.9 0.9 12.1M707.6 354.0q-1.3 3.0 -3.9 10.3M712.5 358.0q2.1 1.9 8.2 3.0M734.3 357.3q-4.9 4.6 -3.8 5.1M749.7 355.3q1.9 0.9 2.7 6.4M769.0 347.9q-0.7 8.0 4.7 11.7M792.6 355.7q1.3 0.7 3.8 5.8M828.0 355.1q-0.0 4.8 4.5 6.3M865.3 351.8q3.7 2.3 8.0 6.2M888.3 350.4q-4.9 6.5 -7.1 8.6M931.8 356.7q1.5 1.5 4.4 7.5M970.5 352.4q-1.4 3.6 -7.2 4.0M984.1 350.4q2.0 2.3 -1.8 10.3M627.5 361.5q2.5 3.1 6.9 2.7M677.7 356.4q-0.2 2.5 -0.2 10.6M692.7 360.8q4.9 4.7 6.7 4.1M713.8 362.9q-3.9 0.4 -5.0 4.0M740.7 364.9q5.7 0.9 6.4 6.8M794.6 359.0q3.3 5.4 3.4 7.3M827.2 363.2q2.9 2.8 0.3 8.0M842.3 366.2q3.8 0.6 6.9 4.1M859.9 360.3q3.5 4.9 9.0 7.1M891.4 360.6q6.5 5.8 8.0 8.2M920.5 361.9q5.3 0.9 9.1 2.7M956.7 360.9q7.2 3.4 9.0 8.7M988.5 363.7q-3.2 0.5 -12.0 4.4M653.9 369.1q-4.5 8.4 -4.7 12.1M694.7 373.4q1.8 2.5 0.0 9.4M749.6 371.3q-1.1 4.4 -2.9 7.6M757.3 369.2q-4.8 7.3 -4.9 11.9M812.6 373.8q1.9 3.9 9.6 3.3M826.2 374.6q3.2 7.0 7.1 10.1M851.8 376.2q-0.2 6.0 4.2 10.8M864.9 375.8q-1.2 4.9 -1.7 8.8M934.7 371.8q-5.2 2.3 -4.8 9.2M998.3 374.0q1.0 5.8 6.4 9.8M1018.1 369.0q-5.1 5.0 -7.7 10.1M624.7 385.1q0.8 3.6 -2.5 9.5M636.3 388.9q5.8 6.0 6.1 7.8M830.9 383.3q-0.5 3.3 -4.9 7.1M856.7 386.8q3.4 -0.3 11.8 3.1M892.8 383.7q-7.0 4.0 -11.0 5.8M925.0 393.9q-3.7 -1.9 -11.1 2.2M997.2 391.5q-4.4 5.0 -7.4 4.0M584.8 396.9q-3.5 2.5 -2.5 6.0M777.0 397.4q4.5 5.3 8.1 5.6M808.4 403.3q0.2 2.9 -3.1 6.3M849.8 401.8q-6.9 3.1 -10.7 4.7M881.8 394.4q-1.6 5.2 -0.4 6.6M941.7 391.7q1.2 5.5 0.9 11.5M972.3 400.9q0.2 3.1 1.9 10.6M1007.7 402.5q-5.4 1.7 -7.6 4.1M581.1 411.2q0.4 0.6 6.4 0.9M638.5 416.1q-0.9 2.1 -7.3 1.2M820.1 404.5q-3.0 4.1 -0.0 11.8M875.9 406.8q3.8 4.5 2.8 7.0M897.4 403.6q5.0 5.9 4.0 8.9M926.0 408.1q3.2 3.3 5.3 4.6M954.3 403.1q-4.5 6.9 -3.2 9.8M610.6 419.6q-3.5 3.2 -6.0 5.9M714.0 418.5q-1.7 0.5 -7.9 1.7M783.2 420.9q-0.1 0.5 -1.2 6.1M880.7 425.9q2.0 -0.7 6.0 1.2M987.3 416.5q0.8 3.4 4.4 5.2M584.0 425.8q3.6 6.2 4.0 10.1M601.6 427.2q-4.0 8.6 -4.9 11.4M644.0 434.7q1.0 3.0 3.6 6.8M695.7 435.2q3.1 1.2 9.2 7.5M719.4 430.8q1.5 0.8 7.8 2.0M790.5 427.5q6.2 6.2 10.0 7.2M829.5 433.9q-5.3 0.0 -4.6 5.3M843.4 434.6q3.3 5.3 1.8 8.1M879.6 431.2q-4.6 -0.8 -6.8 1.7M896.8 434.5q-5.8 0.2 -6.4 3.2M913.0 438.2q9.1 0.9 12.7 2.6M931.8 434.6q1.0 3.5 1.2 6.8M1004.7 427.0q1.0 3.8 -0.1 9.5M583.9 440.0q1.5 2.1 3.3 7.3M672.1 439.0q1.2 7.8 -0.8 9.9M705.0 449.0q-2.0 0.7 -7.4 3.9M737.1 441.7q-6.5 2.1 -8.7 4.1M797.6 444.3q-1.7 -1.2 -6.1 3.2M840.4 442.9q-2.1 5.3 -5.5 5.9M909.1 445.2q2.4 0.8 9.7 3.2M952.8 445.0q-5.9 1.5 -7.7 3.8M619.1 456.8q-1.5 0.5 -7.5 6.4M637.8 456.5q-4.8 4.0 -5.2 3.6M695.4 453.5q0.5 8.6 2.2 12.5M862.4 449.9q-0.4 4.8 3.6 7.7M873.1 454.7q-4.2 4.3 -3.8 8.3M906.4 460.1q-3.3 3.0 -7.4 3.0M685.1 471.1q-4.3 2.2 -6.2 1.9M700.8 462.5q0.1 7.1 -4.7 10.6M719.0 467.1q-5.9 -0.2 -8.5 2.4M760.5 469.2q-3.3 -1.3 -5.6 2.4M856.8 459.3q4.5 7.6 6.8 10.2M959.7 465.5q2.5 4.1 0.9 7.5M981.0 469.5q-1.3 5.7 0.8 6.5M998.3 463.2q2.4 3.3 -0.8 8.0M605.1 474.4q-6.7 1.4 -7.5 2.6M630.0 473.9q-2.3 1.9 -4.6 6.3M651.1 482.5q-4.3 2.9 -7.0 1.2M702.3 475.0q4.4 0.7 3.1 5.6M754.7 469.7q1.6 3.2 -1.0 11.9M774.5 477.2q6.1 3.0 6.5 7.4M824.3 476.3q6.0 1.8 11.7 1.7M839.2 473.7q5.0 -0.9 6.3 3.8M894.5 473.3q-0.5 3.6 3.2 6.5M941.6 473.7q3.5 1.7 2.2 6.0M967.6 473.3q3.0 3.6 2.3 11.0M632.0 492.7q-0.5 1.9 3.9 5.6M664.5 494.4q-5.0 2.9 -7.0 1.9M693.2 486.7q5.0 0.4 5.7 2.0M739.2 486.9q-3.0 0.7 -9.6 1.5M784.2 486.5q-5.4 6.4 -7.1 8.2M868.5 485.0q-3.5 1.4 -2.4 5.9M912.5 494.3q-0.9 -2.2 -7.2 1.5M927.4 489.4q0.6 6.5 0.3 11.9M998.1 484.7q2.8 3.2 6.9 3.2M1023.8 489.6q-3.6 4.9 -5.0 6.7M589.3 497.1q-1.1 2.7 -5.3 4.7M721.7 498.0q-1.3 4.6 2.5 7.0M754.4 497.4q-1.8 0.3 -5.5 6.4M836.0 497.6q2.5 1.4 0.1 7.1M867.0 492.7q2.3 8.7 1.9 11.4M891.4 499.8q-2.9 1.7 -5.0 5.6M904.0 503.8q2.9 5.5 2.7 8.5M987.0 499.9q3.6 2.6 6.4 3.1M599.8 506.8q7.5 1.8 11.8 5.0M644.2 511.8q-3.0 7.0 -4.8 11.3M652.2 511.3q0.1 0.4 4.0 5.8M673.1 505.4q-2.2 6.4 -1.4 8.6M690.3 504.8q-3.8 2.9 -2.2 11.1M720.0 510.5q-3.6 5.6 -6.2 8.0M743.1 513.5q-2.7 0.0 -6.6 5.9M855.2 514.7q-4.1 4.5 -11.8 4.3M997.4 505.8q3.3 3.9 0.9 12.7M581.0 520.7q2.1 2.4 4.9 8.8M618.4 516.0q5.5 2.4 8.0 9.5M650.5 525.3q3.8 4.1 6.0 3.1M774.1 514.4q0.1 5.0 -3.9 10.8M812.7 520.6q3.6 1.2 2.9 8.2M827.9 520.2q3.5 4.2 4.8 6.7M861.7 523.2q6.4 1.6 8.5 3.5M950.6 518.8q-5.4 4.4 -5.8 10.3M953.8 517.8q1.5 2.1 8.5 5.1M971.5 518.0q-2.6 5.0 -1.4 10.3M982.7 518.1q6.9 7.0 8.9 8.1M581.7 525.2q3.8 2.0 5.4 8.4M604.4 524.8q-3.3 3.6 -4.6 8.7M616.8 523.8q1.8 8.2 -2.0 11.4M627.0 528.3q0.4 7.3 2.9 11.5M645.1 528.6q1.2 4.9 -1.3 12.6M883.3 535.7q3.2 0.5 10.4 2.9M940.9 529.0q0.8 5.6 2.3 6.8M983.5 527.6q-3.2 6.8 -5.7 9.7M1007.4 527.0q-0.9 5.0 3.4 11.7M620.4 535.2q0.1 5.4 -3.9 9.2M655.0 544.1q-5.9 4.0 -10.5 2.5M731.2 541.6q7.2 3.5 10.3 5.3M790.5 537.8q-3.4 0.2 -11.0 4.2M838.8 540.1q-0.1 2.4 4.2 10.2M946.0 540.0q-2.4 0.7 -8.3 4.5M956.3 535.8q1.7 5.1 -2.3 12.3M967.3 543.2q7.3 3.6 9.0 1.4M981.1 543.2q3.3 4.2 0.7 8.9M582.0 554.7q3.2 2.6 6.2 5.5M688.2 551.7q-4.3 5.9 -8.8 9.1M729.1 554.6q-3.5 3.1 -5.7 3.0M741.1 553.6q-1.4 0.9 0.2 7.6M751.8 552.2q6.6 2.8 10.8 2.5M802.7 549.2q-2.9 2.4 -2.4 10.7M817.8 550.2q-1.0 5.6 -6.5 7.3M861.9 554.1q1.7 1.2 4.3 6.6M952.2 549.6q2.1 3.6 3.2 9.6M592.4 564.6q-3.7 3.7 -6.6 6.0M592.2 568.0q1.3 2.0 8.0 8.1M623.8 561.5q2.9 5.2 9.5 7.9M651.3 560.5q-7.2 3.9 -9.0 4.0M663.4 564.9q0.2 -0.6 -4.5 4.6M682.7 570.8q-5.5 2.4 -8.3 1.5M717.6 560.9q-0.4 4.9 5.0 8.9M760.0 567.3q6.1 5.5 6.6 7.3M822.1 565.3q-2.4 3.3 -6.9 7.9M827.5 562.4q-1.3 3.0 2.7 5.7M875.9 562.4q-4.8 2.2 -7.2 10.2M911.9 559.6q1.0 3.6 5.1 9.0M942.2 561.7q4.2 3.9 6.8 8.3M638.9 573.7q0.7 3.6 4.7 5.4M683.9 569.7q-4.5 6.3 -4.4 9.9M697.9 576.9q-1.5 2.1 -7.8 4.0M773.0 577.8q1.6 3.8 -0.1 8.4M804.6 579.8q4.1 1.6 6.5 5.7M947.8 578.9q0.7 4.5 1.1 10.7M993.9 573.2q-5.0 3.8 -6.8 6.3M590.0 585.2q0.8 4.7 -0.3 8.8M606.9 586.0q-2.7 0.8 -6.2 6.7M647.8 582.6q4.3 4.3 5.8 8.1M677.1 587.5q-0.4 2.4 4.5 9.8M721.2 587.7q-4.3 7.1 -4.5 8.8M732.2 589.2q0.1 5.8 -0.4 6.2M782.4 587.0q3.2 3.1 11.8 5.2M864.3 582.4q2.4 2.6 4.7 11.1M919.4 590.7q-3.6 3.7 -5.2 3.6M943.1 582.5q4.8 5.2 4.1 9.1M849.5 597.6q2.6 6.4 2.0 9.5M861.3 598.2q4.9 7.1 5.2 11.2M881.2 597.7q5.4 -0.7 11.9 3.0M904.9 600.2q-5.6 1.5 -8.5 8.8M915.5 598.5q2.7 2.9 -0.3 9.6M1009.3 596.9q-0.3 0.9 -2.6 7.4M584.4 602.2q2.0 5.7 -0.8 12.4M641.4 606.9q4.5 8.1 4.1 10.4M661.7 613.2q4.3 3.7 12.2 1.9M693.6 603.8q0.6 0.2 4.9 5.6M785.5 607.4q1.3 2.5 -1.7 9.9M903.7 611.4q-3.7 1.1 -8.2 1.4M591.4 621.3q-3.8 2.9 -6.7 7.0M705.6 619.1q-2.3 -0.1 -4.4 5.1M802.9 614.7q0.9 5.0 4.7 11.5M828.8 619.1q-2.1 2.0 -2.9 8.8M851.4 620.8q-2.3 1.6 -7.2 3.0M887.2 613.1q-3.5 5.2 -4.0 7.2M903.1 618.3q2.9 -0.1 11.6 5.1M920.1 618.3q0.7 3.4 0.2 10.8M943.3 620.2q4.4 6.9 4.9 8.7M960.9 611.3q-0.3 6.9 3.5 10.2M980.3 618.1q0.5 1.3 4.4 6.4M632.3 632.9q-0.8 3.3 -1.2 7.6M663.2 630.4q-0.2 4.9 4.0 6.3M689.3 628.6q3.0 5.2 5.5 7.2M707.5 634.7q3.7 3.5 6.5 3.6M723.9 634.6q7.5 0.7 9.1 3.1M775.3 626.6q-4.7 1.9 -7.5 7.0M837.6 621.9q0.5 8.7 -2.4 11.6M865.8 626.4q0.8 2.2 -2.9 7.8M885.5 632.4q-4.8 4.9 -8.5 7.9M917.7 633.5q-0.2 2.8 -3.5 7.4M927.7 632.4q3.0 4.6 1.3 8.3M939.8 630.6q-0.7 5.7 3.5 12.2M949.2 628.4q-0.0 3.3 -4.3 8.9M977.7 634.0q-4.8 -0.1 -9.1 4.2M600.1 601.9h16.8M618.0 602.0h16.8M667.3 601.1h16.8M700.9 602.2h16.8M784.5 601.8h16.8M718.8 536.1h16.8M735.8 537.5h16.8M887.7 537.6h16.8M954.2 535.6h16.8M603.0 483.9h16.8M785.6 484.8h16.8M836.8 483.4h16.8M635.4 378.6h16.8"/>
<path stroke-width="3.6" stroke-opacity="0.2" d="M683.0 602.2h16.8M765.9 600.8h16.8M583.7 537.1h16.8M601.1 537.2h16.8M635.8 537.1h16.8M668.7 535.5h16.8M769.0 538.5h16.8M704.2 482.5h16.8M735.3 484.2h16.8M734.9 379.2h16.8M802.1 379.3h16.8M902.9 379.0h16.8"/>
<path stroke-width="3.6" stroke-opacity="0.3" d="M583.4 601.9h16.8M583.7 484.8h16.8"/>
<g fill="#fff" stroke="none"><circle cx="640.5" cy="112" r="3.3"/><circle cx="621.5" cy="130" r="3.1"/><circle cx="587.5" cy="146" r="3.4"/><circle cx="621" cy="184.5" r="3.4"/><circle cx="791" cy="163" r="3.4"/><circle cx="925" cy="113.5" r="3.6"/><circle cx="825.5" cy="130.5" r="3.4"/><circle cx="808.5" cy="147" r="3"/><circle cx="824.5" cy="147.5" r="3.3"/><circle cx="613" cy="262.5" r="3.5"/><circle cx="630" cy="263" r="3.2"/><circle cx="647" cy="262" r="3.3"/><circle cx="705" cy="356" r="3.4"/><circle cx="688" cy="355" r="3"/><circle cx="637" cy="408" r="3.2"/><circle cx="711" cy="379" r="3.5"/><circle cx="693" cy="430.5" r="3.5"/><circle cx="762" cy="430.5" r="3.7"/><circle cx="637" cy="509" r="3.4"/><circle cx="621" cy="484" r="3.4"/><circle cx="660" cy="484" r="3.3"/><circle cx="763" cy="483" r="3.8"/><circle cx="646" cy="536" r="3.4"/><circle cx="675" cy="553" r="3.3"/><circle cx="745" cy="556" r="3.4"/><circle cx="610" cy="552" r="3.3"/><circle cx="877" cy="557" r="4"/><circle cx="895" cy="554" r="3.6"/><circle cx="897" cy="535.5" r="3.4"/><circle cx="914" cy="535.5" r="3.2"/><circle cx="1020.5" cy="536" r="4"/><circle cx="901" cy="482.5" r="3.6"/><circle cx="917" cy="482" r="3.8"/><circle cx="934" cy="483" r="3.2"/><circle cx="1006" cy="281" r="3.8"/><circle cx="971" cy="281" r="3.2"/><circle cx="952" cy="430.5" r="3.6"/><circle cx="830" cy="326" r="3.4"/><circle cx="900" cy="326" r="3.3"/><circle cx="849" cy="379.5" r="3.4"/><circle cx="803" cy="405.5" r="3.2"/><circle cx="641" cy="671.5" r="3.2"/><circle cx="600" cy="669" r="3.1"/><circle cx="704" cy="672" r="3"/><circle cx="641.5" cy="740" r="3.3"/><circle cx="624" cy="756.5" r="3"/><circle cx="641" cy="773" r="3"/><circle cx="709" cy="773" r="3"/><circle cx="1024" cy="776" r="3.4"/><circle cx="1008" cy="790" r="3.2"/></g>
</g></g></g>
<!-- annotations -->
<path d="M474.8 74.9L651.6 479" stroke="#f00" stroke-width="1.8" fill="none"/>
<path d="M448 795.6L651.9 541.4" stroke="#f00" stroke-width="1.8" fill="none"/>
<rect x="653" y="480.5" width="19" height="58.5" fill="none" stroke="#fff000" stroke-width="4"/>
<rect x="583" y="648.7" width="259" height="6.2" fill="#f00"/>
<text class="sans" x="599" y="699.2" font-size="32" fill="#fff000" letter-spacing="1.3">Substrate Interface</text>
<g stroke="#333" stroke-width="1.6" fill="none" stroke-linecap="round" stroke-linejoin="round">
<path d="M787 831.3H1024.5"/><path d="M800 819.3L787 831.3L800 843.3"/><path d="M1011.5 819.3L1024.5 831.3L1011.5 843.3"/>
</g>
<text class="sans" x="882.3" y="818.6" font-size="20" font-weight="500" fill="#333" letter-spacing="1.1">5nm</text>
<text class="sans" x="258.2" y="898" font-size="36" fill="#333" letter-spacing="1.45">Epitaxy growth of YBCO thin film</text>
</svg>
</body>
</html>
